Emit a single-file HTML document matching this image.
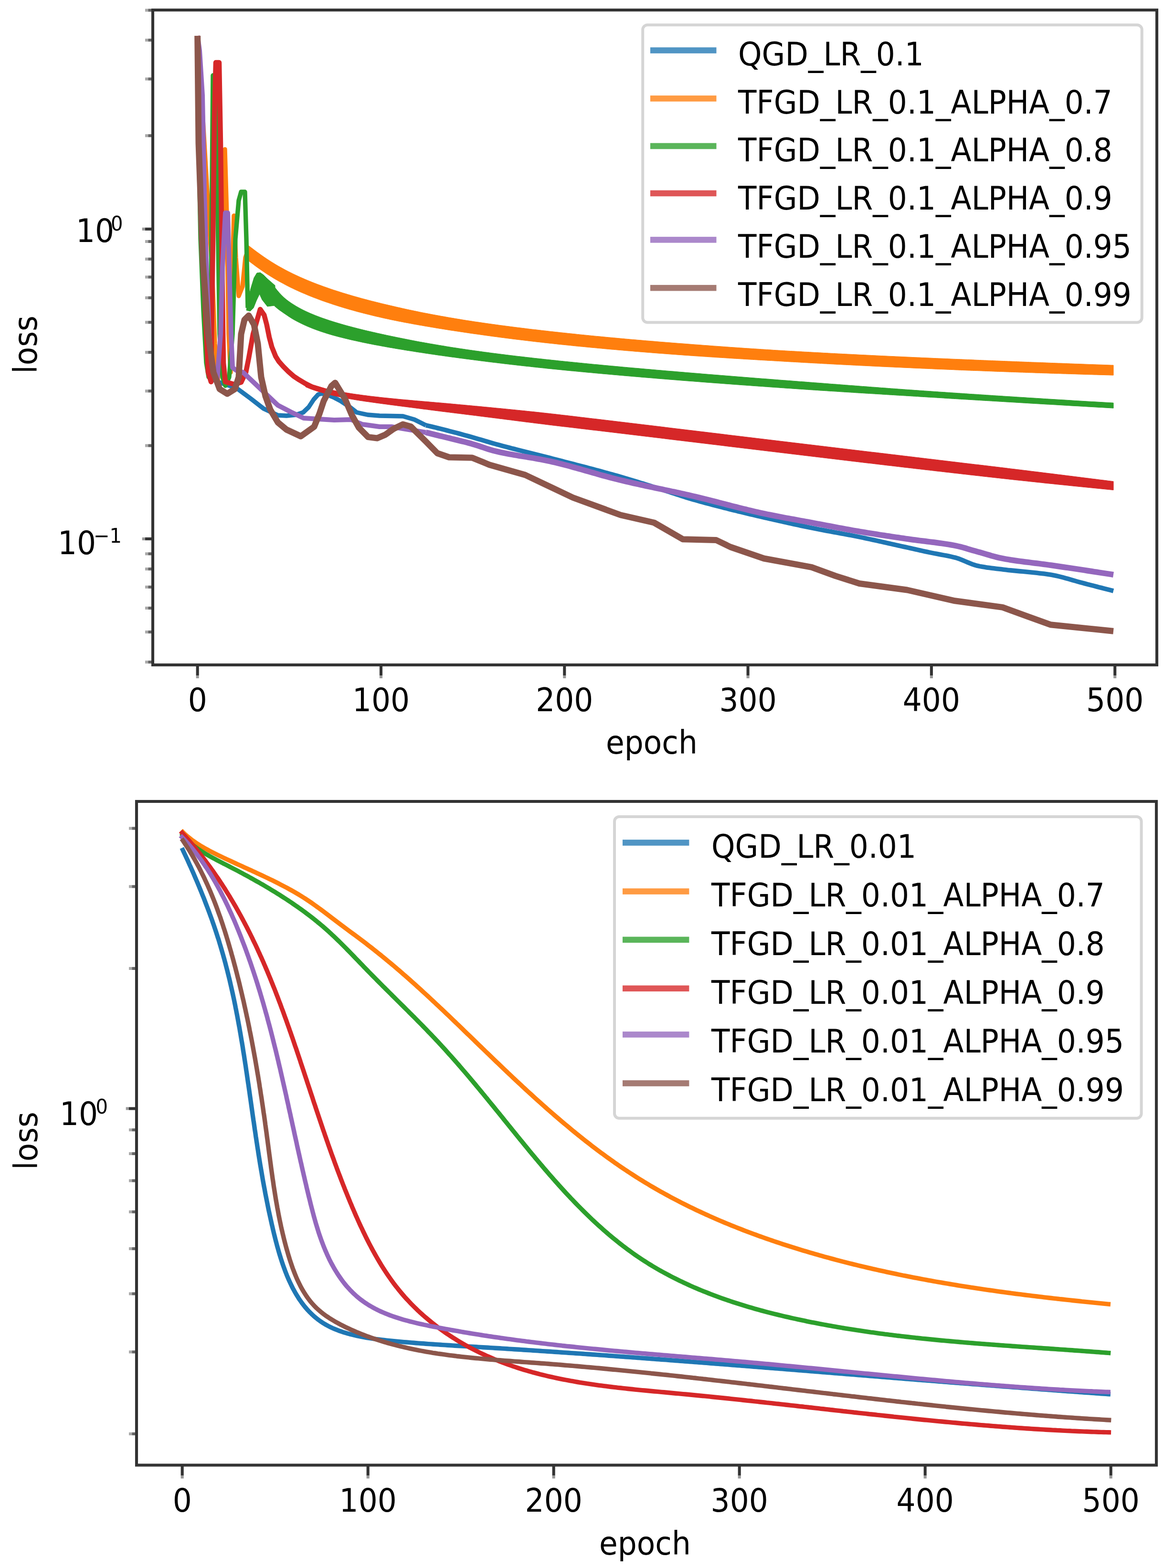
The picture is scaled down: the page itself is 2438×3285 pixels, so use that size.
<!DOCTYPE html>
<html><head><meta charset="utf-8"><title>loss curves</title>
<style>html,body{margin:0;padding:0;background:#fff;}svg{display:block;}</style>
</head><body>
<svg xmlns="http://www.w3.org/2000/svg" width="2438" height="3285" viewBox="0 0 2438 3285">
<style>.t{font-family:"DejaVu Sans","Liberation Sans",sans-serif;font-size:63px;fill:#000}</style>
<rect width="2438" height="3285" fill="#ffffff"/>
<clipPath id="ct"><rect x="320" y="21" width="2103" height="1372"/></clipPath>
<clipPath id="cb"><rect x="286" y="1679" width="2136" height="1390.5"/></clipPath>
<g clip-path="url(#ct)">
<path d="M413.7,75.0 L416.0,200.0 L420.0,400.0 L425.0,560.0 L430.0,700.0 L434.0,770.0 L445.0,795.0 L470.0,805.0 L494.0,812.0 L525.0,835.0 L552.0,856.0 L582.0,870.0 L600.0,871.0 L620.0,869.0 L635.0,864.0 L646.5,853.0 L657.0,837.0 L666.5,826.4 L673.2,824.5 L685.0,827.0 L700.0,833.0 L713.0,839.8 L733.0,853.0 L747.0,864.0 L770.0,869.0 L795.0,871.0 L844.0,872.0 L868.0,879.0 L892.0,891.0" fill="none" stroke="#1f77b4" stroke-width="9.4" stroke-linejoin="round" stroke-linecap="butt" />
<path d="M892.0,891.0 L897.0,892.2 L902.0,893.3 L907.0,894.5 L912.0,895.7 L917.0,897.0 L922.0,898.2 L927.0,899.4 L932.0,900.7 L937.0,902.0 L942.0,903.3 L947.0,904.6 L952.0,905.9 L957.0,907.2 L962.0,908.5 L967.0,909.9 L972.0,911.3 L977.0,912.7 L982.0,914.0 L987.0,915.4 L992.0,916.8 L997.0,918.3 L1002.0,919.8 L1007.0,921.2 L1012.0,922.7 L1017.0,924.2 L1022.0,925.7 L1027.0,927.2 L1032.0,928.6 L1037.0,930.0 L1042.0,931.4 L1047.0,932.7 L1052.0,934.1 L1057.0,935.4 L1062.0,936.7 L1067.0,938.0 L1072.0,939.3 L1077.0,940.5 L1082.0,941.8 L1087.0,943.1 L1092.0,944.3 L1097.0,945.6 L1102.0,946.8 L1107.0,948.1 L1112.0,949.3 L1117.0,950.6 L1122.0,951.8 L1127.0,953.1 L1132.0,954.4 L1137.0,955.6 L1142.0,956.9 L1147.0,958.2 L1152.0,959.5 L1157.0,960.8 L1162.0,962.1 L1167.0,963.4 L1172.0,964.7 L1177.0,966.0 L1182.0,967.3 L1187.0,968.6 L1192.0,969.9 L1197.0,971.2 L1202.0,972.5 L1207.0,973.8 L1212.0,975.1 L1217.0,976.4 L1222.0,977.7 L1227.0,979.0 L1232.0,980.4 L1237.0,981.7 L1242.0,983.0 L1247.0,984.3 L1252.0,985.7 L1257.0,987.0 L1262.0,988.4 L1267.0,989.8 L1272.0,991.1 L1277.0,992.5 L1282.0,993.9 L1287.0,995.3 L1292.0,996.7 L1297.0,998.1 L1302.0,999.6 L1307.0,1001.0 L1312.0,1002.5 L1317.0,1004.0 L1322.0,1005.5 L1327.0,1007.0 L1332.0,1008.6 L1337.0,1010.1 L1342.0,1011.7 L1347.0,1013.2 L1352.0,1014.8 L1357.0,1016.3 L1362.0,1017.9 L1367.0,1019.5 L1372.0,1021.1 L1377.0,1022.6 L1382.0,1024.2 L1387.0,1025.8 L1392.0,1027.5 L1397.0,1029.1 L1402.0,1030.7 L1407.0,1032.4 L1412.0,1034.0 L1417.0,1035.7 L1422.0,1037.3 L1427.0,1038.9 L1432.0,1040.5 L1437.0,1042.1 L1442.0,1043.6 L1447.0,1045.1 L1452.0,1046.6 L1457.0,1048.0 L1462.0,1049.4 L1467.0,1050.8 L1472.0,1052.2 L1477.0,1053.6 L1482.0,1054.9 L1487.0,1056.2 L1492.0,1057.5 L1497.0,1058.8 L1502.0,1060.1 L1507.0,1061.4 L1512.0,1062.7 L1517.0,1064.0 L1522.0,1065.2 L1527.0,1066.5 L1532.0,1067.8 L1537.0,1069.0 L1542.0,1070.2 L1547.0,1071.5 L1552.0,1072.7 L1557.0,1073.9 L1562.0,1075.1 L1567.0,1076.3 L1572.0,1077.5 L1577.0,1078.7 L1582.0,1079.8 L1587.0,1081.0 L1592.0,1082.2 L1597.0,1083.3 L1602.0,1084.5 L1607.0,1085.6 L1612.0,1086.8 L1617.0,1087.9 L1622.0,1089.0 L1627.0,1090.2 L1632.0,1091.3 L1637.0,1092.4 L1642.0,1093.5 L1647.0,1094.7 L1652.0,1095.8 L1657.0,1096.9 L1662.0,1098.0 L1667.0,1099.1 L1672.0,1100.1 L1677.0,1101.2 L1682.0,1102.3 L1687.0,1103.3 L1692.0,1104.4 L1697.0,1105.4 L1702.0,1106.4 L1707.0,1107.4 L1712.0,1108.4 L1717.0,1109.4 L1722.0,1110.3 L1727.0,1111.3 L1732.0,1112.2 L1737.0,1113.1 L1742.0,1114.0 L1747.0,1115.0 L1752.0,1115.9 L1757.0,1116.8 L1762.0,1117.7 L1767.0,1118.6 L1772.0,1119.6 L1777.0,1120.5 L1782.0,1121.4 L1787.0,1122.4 L1792.0,1123.4 L1797.0,1124.4 L1802.0,1125.4 L1807.0,1126.4 L1812.0,1127.5 L1817.0,1128.6 L1822.0,1129.6 L1827.0,1130.7 L1832.0,1131.8 L1837.0,1132.9 L1842.0,1134.0 L1847.0,1135.1 L1852.0,1136.2 L1857.0,1137.4 L1862.0,1138.5 L1867.0,1139.6 L1872.0,1140.7 L1877.0,1141.9 L1882.0,1143.0 L1887.0,1144.1 L1892.0,1145.2 L1897.0,1146.3 L1902.0,1147.4 L1907.0,1148.5 L1912.0,1149.7 L1917.0,1150.8 L1922.0,1151.9 L1927.0,1153.0 L1932.0,1154.1 L1937.0,1155.2 L1942.0,1156.3 L1947.0,1157.4 L1952.0,1158.4 L1957.0,1159.4 L1962.0,1160.3 L1967.0,1161.3 L1972.0,1162.2 L1977.0,1163.1 L1982.0,1164.0 L1987.0,1165.0 L1992.0,1166.1 L1997.0,1167.3 L2002.0,1168.5 L2007.0,1170.1 L2012.0,1172.0 L2017.0,1174.0 L2022.0,1176.1 L2027.0,1178.2 L2032.0,1180.3 L2037.0,1182.2 L2042.0,1183.9 L2047.0,1185.3 L2052.0,1186.4 L2057.0,1187.3 L2062.0,1188.1 L2067.0,1188.9 L2072.0,1189.6 L2077.0,1190.2 L2082.0,1190.8 L2087.0,1191.4 L2092.0,1192.0 L2097.0,1192.6 L2102.0,1193.2 L2107.0,1193.8 L2112.0,1194.4 L2117.0,1194.9 L2122.0,1195.4 L2127.0,1195.9 L2132.0,1196.4 L2137.0,1196.9 L2142.0,1197.3 L2147.0,1197.8 L2152.0,1198.3 L2157.0,1198.8 L2162.0,1199.3 L2167.0,1199.8 L2172.0,1200.3 L2177.0,1200.9 L2182.0,1201.5 L2187.0,1202.1 L2192.0,1202.8 L2197.0,1203.5 L2202.0,1204.3 L2207.0,1205.2 L2212.0,1206.3 L2217.0,1207.4 L2222.0,1208.6 L2227.0,1209.9 L2232.0,1211.3 L2237.0,1212.7 L2242.0,1214.1 L2247.0,1215.6 L2252.0,1217.0 L2257.0,1218.5 L2262.0,1219.9 L2267.0,1221.2 L2272.0,1222.5 L2277.0,1223.8 L2282.0,1225.1 L2287.0,1226.4 L2292.0,1227.7 L2297.0,1229.0 L2302.0,1230.3 L2307.0,1231.5 L2312.0,1232.8 L2317.0,1234.1 L2322.0,1235.4 L2327.0,1236.7 L2332.0,1238.0" fill="none" stroke="#1f77b4" stroke-width="9.6" stroke-linejoin="round" stroke-linecap="butt" />
<path d="M413.7,75.0 L425.0,250.0 L435.0,420.0 L444.0,560.0 L450.0,720.0 L456.0,800.0 L462.0,700.0 L467.0,450.0 L471.0,313.0 L475.0,450.0 L479.0,700.0 L483.0,780.0 L486.0,600.0 L490.0,452.0 L494.0,540.0 L500.0,620.0 L508.0,600.0 L514.0,540.0 L518.0,528.0" fill="none" stroke="#ff7f0e" stroke-width="9.4" stroke-linejoin="round" stroke-linecap="butt" />
<path d="M518.0,512.7 L523.0,516.4 L528.0,520.2 L533.0,524.0 L538.0,527.8 L543.1,531.4 L548.1,535.0 L553.1,538.5 L558.1,541.9 L563.1,545.2 L568.1,548.4 L573.1,551.5 L578.1,554.6 L583.1,557.5 L588.2,560.3 L593.2,563.1 L598.2,565.8 L603.2,568.4 L608.2,570.9 L613.2,573.4 L618.2,575.8 L623.2,578.1 L628.2,580.4 L633.3,582.6 L638.3,584.8 L643.3,586.9 L648.3,589.0 L653.3,591.0 L658.3,593.0 L663.3,594.9 L668.3,596.8 L673.3,598.6 L678.4,600.5 L683.4,602.2 L688.4,604.0 L693.4,605.7 L698.4,607.4 L703.4,609.0 L708.4,610.6 L713.4,612.2 L718.4,613.8 L723.5,615.3 L728.5,616.8 L733.5,618.3 L738.5,619.8 L743.5,621.2 L748.5,622.6 L753.5,624.0 L758.5,625.4 L763.5,626.7 L768.6,628.1 L773.6,629.4 L778.6,630.7 L783.6,631.9 L788.6,633.2 L793.6,634.4 L798.6,635.7 L803.6,636.9 L808.6,638.1 L813.7,639.3 L818.7,640.4 L823.7,641.6 L828.7,642.8 L833.7,643.9 L838.7,645.0 L843.7,646.2 L848.7,647.3 L853.7,648.4 L858.8,649.5 L863.8,650.5 L868.8,651.6 L873.8,652.6 L878.8,653.7 L883.8,654.7 L888.8,655.7 L893.8,656.6 L898.8,657.6 L903.9,658.6 L908.9,659.5 L913.9,660.4 L918.9,661.3 L923.9,662.3 L928.9,663.1 L933.9,664.0 L938.9,664.9 L943.9,665.8 L949.0,666.6 L954.0,667.5 L959.0,668.3 L964.0,669.1 L969.0,670.0 L974.0,670.8 L979.0,671.6 L984.0,672.3 L989.0,673.1 L994.0,673.9 L999.1,674.6 L1004.1,675.3 L1009.1,676.1 L1014.1,676.8 L1019.1,677.5 L1024.1,678.2 L1029.1,678.9 L1034.1,679.6 L1039.1,680.3 L1044.2,681.0 L1049.2,681.7 L1054.2,682.3 L1059.2,683.0 L1064.2,683.6 L1069.2,684.3 L1074.2,684.9 L1079.2,685.6 L1084.2,686.2 L1089.3,686.8 L1094.3,687.4 L1099.3,688.0 L1104.3,688.7 L1109.3,689.3 L1114.3,689.9 L1119.3,690.4 L1124.3,691.0 L1129.3,691.6 L1134.4,692.2 L1139.4,692.8 L1144.4,693.3 L1149.4,693.9 L1154.4,694.5 L1159.4,695.0 L1164.4,695.6 L1169.4,696.1 L1174.4,696.7 L1179.5,697.2 L1184.5,697.7 L1189.5,698.3 L1194.5,698.8 L1199.5,699.3 L1204.5,699.8 L1209.5,700.4 L1214.5,700.9 L1219.5,701.4 L1224.6,701.9 L1229.6,702.4 L1234.6,702.9 L1239.6,703.4 L1244.6,703.9 L1249.6,704.4 L1254.6,704.8 L1259.6,705.3 L1264.6,705.8 L1269.7,706.3 L1274.7,706.8 L1279.7,707.2 L1284.7,707.7 L1289.7,708.1 L1294.7,708.6 L1299.7,709.1 L1304.7,709.5 L1309.7,710.0 L1314.8,710.4 L1319.8,710.9 L1324.8,711.3 L1329.8,711.7 L1334.8,712.2 L1339.8,712.6 L1344.8,713.0 L1349.8,713.5 L1354.8,713.9 L1359.9,714.3 L1364.9,714.7 L1369.9,715.1 L1374.9,715.6 L1379.9,716.0 L1384.9,716.4 L1389.9,716.8 L1394.9,717.2 L1399.9,717.6 L1405.0,718.0 L1410.0,718.4 L1415.0,718.8 L1420.0,719.2 L1425.0,719.6 L1430.0,719.9 L1435.0,720.3 L1440.0,720.7 L1445.0,721.1 L1450.1,721.5 L1455.1,721.9 L1460.1,722.2 L1465.1,722.6 L1470.1,723.0 L1475.1,723.4 L1480.1,723.7 L1485.1,724.1 L1490.1,724.5 L1495.2,724.9 L1500.2,725.2 L1505.2,725.6 L1510.2,725.9 L1515.2,726.3 L1520.2,726.7 L1525.2,727.0 L1530.2,727.4 L1535.2,727.7 L1540.3,728.1 L1545.3,728.4 L1550.3,728.8 L1555.3,729.1 L1560.3,729.5 L1565.3,729.8 L1570.3,730.1 L1575.3,730.5 L1580.3,730.8 L1585.4,731.1 L1590.4,731.4 L1595.4,731.8 L1600.4,732.1 L1605.4,732.4 L1610.4,732.7 L1615.4,733.0 L1620.4,733.4 L1625.4,733.7 L1630.5,734.0 L1635.5,734.3 L1640.5,734.6 L1645.5,734.9 L1650.5,735.2 L1655.5,735.5 L1660.5,735.7 L1665.5,736.0 L1670.5,736.3 L1675.6,736.6 L1680.6,736.9 L1685.6,737.2 L1690.6,737.4 L1695.6,737.7 L1700.6,738.0 L1705.6,738.3 L1710.6,738.5 L1715.6,738.8 L1720.7,739.1 L1725.7,739.4 L1730.7,739.6 L1735.7,739.9 L1740.7,740.2 L1745.7,740.4 L1750.7,740.7 L1755.7,741.0 L1760.7,741.2 L1765.8,741.5 L1770.8,741.7 L1775.8,742.0 L1780.8,742.2 L1785.8,742.5 L1790.8,742.7 L1795.8,743.0 L1800.8,743.3 L1805.8,743.5 L1810.9,743.7 L1815.9,744.0 L1820.9,744.2 L1825.9,744.5 L1830.9,744.7 L1835.9,745.0 L1840.9,745.2 L1845.9,745.5 L1850.9,745.7 L1856.0,745.9 L1861.0,746.2 L1866.0,746.4 L1871.0,746.6 L1876.0,746.9 L1881.0,747.1 L1886.0,747.3 L1891.0,747.6 L1896.0,747.8 L1901.0,748.0 L1906.1,748.2 L1911.1,748.5 L1916.1,748.7 L1921.1,748.9 L1926.1,749.1 L1931.1,749.4 L1936.1,749.6 L1941.1,749.8 L1946.1,750.0 L1951.2,750.2 L1956.2,750.5 L1961.2,750.7 L1966.2,750.9 L1971.2,751.1 L1976.2,751.3 L1981.2,751.5 L1986.2,751.7 L1991.2,752.0 L1996.3,752.2 L2001.3,752.4 L2006.3,752.6 L2011.3,752.8 L2016.3,753.0 L2021.3,753.2 L2026.3,753.4 L2031.3,753.6 L2036.3,753.8 L2041.4,754.1 L2046.4,754.3 L2051.4,754.5 L2056.4,754.7 L2061.4,754.9 L2066.4,755.1 L2071.4,755.3 L2076.4,755.5 L2081.4,755.7 L2086.5,755.9 L2091.5,756.1 L2096.5,756.3 L2101.5,756.5 L2106.5,756.7 L2111.5,756.9 L2116.5,757.1 L2121.5,757.3 L2126.5,757.5 L2131.6,757.7 L2136.6,757.9 L2141.6,758.1 L2146.6,758.3 L2151.6,758.5 L2156.6,758.7 L2161.6,758.9 L2166.6,759.1 L2171.6,759.2 L2176.7,759.4 L2181.7,759.6 L2186.7,759.8 L2191.7,760.0 L2196.7,760.2 L2201.7,760.4 L2206.7,760.6 L2211.7,760.8 L2216.7,761.0 L2221.8,761.1 L2226.8,761.3 L2231.8,761.5 L2236.8,761.7 L2241.8,761.9 L2246.8,762.1 L2251.8,762.3 L2256.8,762.4 L2261.8,762.6 L2266.9,762.8 L2271.9,763.0 L2276.9,763.2 L2281.9,763.4 L2286.9,763.5 L2291.9,763.7 L2296.9,763.9 L2301.9,764.1 L2306.9,764.2 L2312.0,764.4 L2317.0,764.6 L2322.0,764.8 L2327.0,765.0 L2332.0,765.1 L2332.0,786.1 L2327.0,786.0 L2322.0,785.8 L2317.0,785.7 L2312.0,785.5 L2306.9,785.4 L2301.9,785.3 L2296.9,785.1 L2291.9,785.0 L2286.9,784.8 L2281.9,784.7 L2276.9,784.5 L2271.9,784.4 L2266.9,784.2 L2261.8,784.1 L2256.8,783.9 L2251.8,783.7 L2246.8,783.6 L2241.8,783.4 L2236.8,783.3 L2231.8,783.1 L2226.8,783.0 L2221.8,782.8 L2216.7,782.6 L2211.7,782.5 L2206.7,782.3 L2201.7,782.2 L2196.7,782.0 L2191.7,781.8 L2186.7,781.7 L2181.7,781.5 L2176.7,781.3 L2171.6,781.2 L2166.6,781.0 L2161.6,780.8 L2156.6,780.7 L2151.6,780.5 L2146.6,780.3 L2141.6,780.1 L2136.6,780.0 L2131.6,779.8 L2126.5,779.6 L2121.5,779.4 L2116.5,779.3 L2111.5,779.1 L2106.5,778.9 L2101.5,778.7 L2096.5,778.5 L2091.5,778.4 L2086.5,778.2 L2081.4,778.0 L2076.4,777.8 L2071.4,777.6 L2066.4,777.4 L2061.4,777.2 L2056.4,777.0 L2051.4,776.8 L2046.4,776.6 L2041.4,776.5 L2036.3,776.3 L2031.3,776.1 L2026.3,775.9 L2021.3,775.7 L2016.3,775.5 L2011.3,775.3 L2006.3,775.1 L2001.3,774.9 L1996.3,774.6 L1991.2,774.4 L1986.2,774.2 L1981.2,774.0 L1976.2,773.8 L1971.2,773.6 L1966.2,773.4 L1961.2,773.2 L1956.2,773.0 L1951.2,772.7 L1946.1,772.5 L1941.1,772.3 L1936.1,772.1 L1931.1,771.9 L1926.1,771.6 L1921.1,771.4 L1916.1,771.2 L1911.1,771.0 L1906.1,770.7 L1901.0,770.5 L1896.0,770.3 L1891.0,770.1 L1886.0,769.8 L1881.0,769.6 L1876.0,769.4 L1871.0,769.1 L1866.0,768.9 L1861.0,768.7 L1856.0,768.4 L1850.9,768.2 L1845.9,768.0 L1840.9,767.7 L1835.9,767.5 L1830.9,767.2 L1825.9,767.0 L1820.9,766.7 L1815.9,766.5 L1810.9,766.2 L1805.8,766.0 L1800.8,765.8 L1795.8,765.5 L1790.8,765.2 L1785.8,765.0 L1780.8,764.7 L1775.8,764.5 L1770.8,764.2 L1765.8,764.0 L1760.7,763.7 L1755.7,763.5 L1750.7,763.2 L1745.7,762.9 L1740.7,762.7 L1735.7,762.4 L1730.7,762.1 L1725.7,761.9 L1720.7,761.6 L1715.6,761.3 L1710.6,761.0 L1705.6,760.8 L1700.6,760.5 L1695.6,760.2 L1690.6,759.9 L1685.6,759.7 L1680.6,759.4 L1675.6,759.1 L1670.5,758.8 L1665.5,758.5 L1660.5,758.2 L1655.5,758.0 L1650.5,757.7 L1645.5,757.4 L1640.5,757.1 L1635.5,756.8 L1630.5,756.5 L1625.4,756.2 L1620.4,755.9 L1615.4,755.6 L1610.4,755.4 L1605.4,755.1 L1600.4,754.8 L1595.4,754.5 L1590.4,754.2 L1585.4,753.9 L1580.3,753.6 L1575.3,753.3 L1570.3,753.0 L1565.3,752.7 L1560.3,752.4 L1555.3,752.1 L1550.3,751.8 L1545.3,751.5 L1540.3,751.2 L1535.2,750.9 L1530.2,750.6 L1525.2,750.2 L1520.2,749.9 L1515.2,749.6 L1510.2,749.3 L1505.2,749.0 L1500.2,748.7 L1495.2,748.3 L1490.1,748.0 L1485.1,747.7 L1480.1,747.3 L1475.1,747.0 L1470.1,746.7 L1465.1,746.3 L1460.1,746.0 L1455.1,745.7 L1450.1,745.3 L1445.0,745.0 L1440.0,744.6 L1435.0,744.3 L1430.0,743.9 L1425.0,743.5 L1420.0,743.2 L1415.0,742.8 L1410.0,742.4 L1405.0,742.1 L1399.9,741.7 L1394.9,741.3 L1389.9,740.9 L1384.9,740.5 L1379.9,740.2 L1374.9,739.8 L1369.9,739.4 L1364.9,739.0 L1359.9,738.6 L1354.8,738.2 L1349.8,737.8 L1344.8,737.4 L1339.8,737.0 L1334.8,736.6 L1329.8,736.2 L1324.8,735.7 L1319.8,735.3 L1314.8,734.9 L1309.7,734.5 L1304.7,734.0 L1299.7,733.6 L1294.7,733.2 L1289.7,732.7 L1284.7,732.3 L1279.7,731.9 L1274.7,731.4 L1269.7,731.0 L1264.6,730.5 L1259.6,730.0 L1254.6,729.6 L1249.6,729.1 L1244.6,728.6 L1239.6,728.2 L1234.6,727.7 L1229.6,727.2 L1224.6,726.7 L1219.5,726.2 L1214.5,725.8 L1209.5,725.3 L1204.5,724.8 L1199.5,724.3 L1194.5,723.7 L1189.5,723.2 L1184.5,722.7 L1179.5,722.2 L1174.4,721.7 L1169.4,721.2 L1164.4,720.6 L1159.4,720.1 L1154.4,719.5 L1149.4,719.0 L1144.4,718.4 L1139.4,717.9 L1134.4,717.3 L1129.3,716.7 L1124.3,716.2 L1119.3,715.6 L1114.3,715.0 L1109.3,714.4 L1104.3,713.8 L1099.3,713.2 L1094.3,712.6 L1089.3,712.0 L1084.2,711.4 L1079.2,710.8 L1074.2,710.2 L1069.2,709.5 L1064.2,708.9 L1059.2,708.3 L1054.2,707.6 L1049.2,707.0 L1044.2,706.3 L1039.1,705.6 L1034.1,705.0 L1029.1,704.3 L1024.1,703.6 L1019.1,702.9 L1014.1,702.2 L1009.1,701.5 L1004.1,700.8 L999.1,700.1 L994.0,699.4 L989.0,698.7 L984.0,698.0 L979.0,697.2 L974.0,696.5 L969.0,695.7 L964.0,695.0 L959.0,694.2 L954.0,693.5 L949.0,692.7 L943.9,692.0 L938.9,691.2 L933.9,690.4 L928.9,689.6 L923.9,688.8 L918.9,688.0 L913.9,687.2 L908.9,686.3 L903.9,685.5 L898.8,684.6 L893.8,683.8 L888.8,682.9 L883.8,682.0 L878.8,681.2 L873.8,680.3 L868.8,679.4 L863.8,678.5 L858.8,677.5 L853.7,676.6 L848.7,675.7 L843.7,674.7 L838.7,673.7 L833.7,672.8 L828.7,671.7 L823.7,670.7 L818.7,669.7 L813.7,668.6 L808.6,667.5 L803.6,666.4 L798.6,665.3 L793.6,664.1 L788.6,663.0 L783.6,661.8 L778.6,660.6 L773.6,659.3 L768.6,658.1 L763.5,656.8 L758.5,655.5 L753.5,654.2 L748.5,652.9 L743.5,651.5 L738.5,650.1 L733.5,648.7 L728.5,647.3 L723.5,645.8 L718.4,644.3 L713.4,642.7 L708.4,641.2 L703.4,639.6 L698.4,638.0 L693.4,636.3 L688.4,634.6 L683.4,632.9 L678.4,631.2 L673.3,629.4 L668.3,627.5 L663.3,625.6 L658.3,623.7 L653.3,621.8 L648.3,619.8 L643.3,617.7 L638.3,615.6 L633.3,613.5 L628.2,611.3 L623.2,609.0 L618.2,606.7 L613.2,604.3 L608.2,601.9 L603.2,599.4 L598.2,596.8 L593.2,594.1 L588.2,591.4 L583.1,588.6 L578.1,585.7 L573.1,582.8 L568.1,579.7 L563.1,576.6 L558.1,573.4 L553.1,570.0 L548.1,566.6 L543.1,563.1 L538.0,559.5 L533.0,555.8 L528.0,552.0 L523.0,548.3 L518.0,544.7 Z" fill="#ff7f0e" stroke="#ff7f0e" stroke-width="1"/>
<path d="M413.7,75.0 L416.0,300.0 L420.0,500.0 L426.0,650.0 L432.0,760.0 L437.0,790.0 L442.0,600.0 L446.0,158.0 L451.0,158.0 L456.0,450.0 L460.0,700.0 L466.0,790.0 L472.0,808.0 L480.0,790.0 L487.0,700.0 L493.0,500.0 L500.0,420.0 L505.0,402.0 L513.0,402.0 L516.0,500.0 L519.0,645.0" fill="none" stroke="#2ca02c" stroke-width="9.4" stroke-linejoin="round" stroke-linecap="butt" />
<path d="M516.0,650.0 L519.0,630.0 L525.0,605.0 L532.0,582.0 L538.0,572.0 L545.0,571.0 L552.0,576.0 L560.0,584.0 L576.0,598.0 L576.0,640.0 L560.0,642.0 L549.0,628.0 L543.6,616.0 L537.0,630.0 L531.0,645.0 L524.0,652.0 Z" fill="#2ca02c" stroke="#2ca02c" stroke-width="1" stroke-linejoin="round"/>
<path d="M575.0,601.2 L580.0,607.5 L585.0,613.4 L590.0,618.8 L595.0,623.6 L600.0,627.8 L605.0,631.6 L610.0,635.1 L615.0,638.3 L620.1,641.4 L625.1,644.3 L630.1,647.0 L635.1,649.6 L640.1,652.0 L645.1,654.3 L650.1,656.5 L655.1,658.6 L660.1,660.7 L665.1,662.6 L670.1,664.5 L675.1,666.3 L680.1,668.0 L685.1,669.7 L690.1,671.4 L695.1,673.0 L700.1,674.6 L705.1,676.1 L710.2,677.6 L715.2,679.1 L720.2,680.5 L725.2,681.9 L730.2,683.3 L735.2,684.6 L740.2,685.9 L745.2,687.2 L750.2,688.5 L755.2,689.7 L760.2,691.0 L765.2,692.2 L770.2,693.4 L775.2,694.5 L780.2,695.7 L785.2,696.8 L790.2,698.0 L795.3,699.1 L800.3,700.2 L805.3,701.3 L810.3,702.4 L815.3,703.4 L820.3,704.5 L825.3,705.5 L830.3,706.6 L835.3,707.6 L840.3,708.6 L845.3,709.6 L850.3,710.6 L855.3,711.6 L860.3,712.6 L865.3,713.6 L870.3,714.5 L875.3,715.5 L880.3,716.4 L885.4,717.3 L890.4,718.2 L895.4,719.1 L900.4,720.0 L905.4,720.8 L910.4,721.7 L915.4,722.5 L920.4,723.4 L925.4,724.2 L930.4,725.0 L935.4,725.9 L940.4,726.7 L945.4,727.5 L950.4,728.3 L955.4,729.0 L960.4,729.8 L965.4,730.6 L970.5,731.3 L975.5,732.1 L980.5,732.8 L985.5,733.5 L990.5,734.2 L995.5,734.9 L1000.5,735.6 L1005.5,736.3 L1010.5,737.0 L1015.5,737.7 L1020.5,738.3 L1025.5,739.0 L1030.5,739.7 L1035.5,740.3 L1040.5,740.9 L1045.5,741.6 L1050.5,742.2 L1055.5,742.8 L1060.6,743.5 L1065.6,744.1 L1070.6,744.7 L1075.6,745.3 L1080.6,745.9 L1085.6,746.5 L1090.6,747.0 L1095.6,747.6 L1100.6,748.2 L1105.6,748.8 L1110.6,749.3 L1115.6,749.9 L1120.6,750.5 L1125.6,751.0 L1130.6,751.6 L1135.6,752.1 L1140.6,752.7 L1145.6,753.2 L1150.7,753.7 L1155.7,754.3 L1160.7,754.8 L1165.7,755.3 L1170.7,755.9 L1175.7,756.4 L1180.7,756.9 L1185.7,757.4 L1190.7,757.9 L1195.7,758.4 L1200.7,758.9 L1205.7,759.4 L1210.7,759.9 L1215.7,760.4 L1220.7,760.9 L1225.7,761.4 L1230.7,761.9 L1235.8,762.4 L1240.8,762.9 L1245.8,763.4 L1250.8,763.8 L1255.8,764.3 L1260.8,764.8 L1265.8,765.3 L1270.8,765.7 L1275.8,766.2 L1280.8,766.7 L1285.8,767.1 L1290.8,767.6 L1295.8,768.0 L1300.8,768.5 L1305.8,769.0 L1310.8,769.4 L1315.8,769.9 L1320.8,770.3 L1325.9,770.8 L1330.9,771.2 L1335.9,771.6 L1340.9,772.1 L1345.9,772.5 L1350.9,773.0 L1355.9,773.4 L1360.9,773.8 L1365.9,774.3 L1370.9,774.7 L1375.9,775.2 L1380.9,775.6 L1385.9,776.0 L1390.9,776.4 L1395.9,776.9 L1400.9,777.3 L1405.9,777.7 L1411.0,778.1 L1416.0,778.6 L1421.0,779.0 L1426.0,779.4 L1431.0,779.8 L1436.0,780.3 L1441.0,780.7 L1446.0,781.1 L1451.0,781.5 L1456.0,781.9 L1461.0,782.3 L1466.0,782.7 L1471.0,783.2 L1476.0,783.6 L1481.0,784.0 L1486.0,784.4 L1491.0,784.8 L1496.0,785.2 L1501.1,785.6 L1506.1,786.0 L1511.1,786.4 L1516.1,786.8 L1521.1,787.2 L1526.1,787.6 L1531.1,788.0 L1536.1,788.4 L1541.1,788.8 L1546.1,789.2 L1551.1,789.6 L1556.1,790.0 L1561.1,790.4 L1566.1,790.8 L1571.1,791.2 L1576.1,791.6 L1581.1,792.0 L1586.2,792.4 L1591.2,792.8 L1596.2,793.2 L1601.2,793.5 L1606.2,793.9 L1611.2,794.3 L1616.2,794.7 L1621.2,795.1 L1626.2,795.5 L1631.2,795.9 L1636.2,796.3 L1641.2,796.7 L1646.2,797.0 L1651.2,797.4 L1656.2,797.8 L1661.2,798.2 L1666.2,798.6 L1671.2,799.0 L1676.3,799.4 L1681.3,799.7 L1686.3,800.1 L1691.3,800.5 L1696.3,800.9 L1701.3,801.3 L1706.3,801.7 L1711.3,802.1 L1716.3,802.4 L1721.3,802.8 L1726.3,803.2 L1731.3,803.6 L1736.3,804.0 L1741.3,804.4 L1746.3,804.8 L1751.3,805.1 L1756.3,805.5 L1761.4,805.9 L1766.4,806.3 L1771.4,806.7 L1776.4,807.1 L1781.4,807.5 L1786.4,807.8 L1791.4,808.2 L1796.4,808.6 L1801.4,809.0 L1806.4,809.4 L1811.4,809.7 L1816.4,810.1 L1821.4,810.5 L1826.4,810.9 L1831.4,811.2 L1836.4,811.6 L1841.4,812.0 L1846.4,812.4 L1851.5,812.7 L1856.5,813.1 L1861.5,813.5 L1866.5,813.9 L1871.5,814.2 L1876.5,814.6 L1881.5,815.0 L1886.5,815.3 L1891.5,815.7 L1896.5,816.1 L1901.5,816.4 L1906.5,816.8 L1911.5,817.1 L1916.5,817.5 L1921.5,817.8 L1926.5,818.2 L1931.5,818.5 L1936.5,818.9 L1941.6,819.2 L1946.6,819.6 L1951.6,819.9 L1956.6,820.3 L1961.6,820.6 L1966.6,821.0 L1971.6,821.3 L1976.6,821.6 L1981.6,822.0 L1986.6,822.3 L1991.6,822.7 L1996.6,823.0 L2001.6,823.3 L2006.6,823.7 L2011.6,824.0 L2016.6,824.3 L2021.6,824.7 L2026.7,825.0 L2031.7,825.4 L2036.7,825.7 L2041.7,826.0 L2046.7,826.3 L2051.7,826.7 L2056.7,827.0 L2061.7,827.3 L2066.7,827.7 L2071.7,828.0 L2076.7,828.3 L2081.7,828.7 L2086.7,829.0 L2091.7,829.3 L2096.7,829.6 L2101.7,830.0 L2106.7,830.3 L2111.7,830.6 L2116.8,830.9 L2121.8,831.2 L2126.8,831.6 L2131.8,831.9 L2136.8,832.2 L2141.8,832.5 L2146.8,832.8 L2151.8,833.2 L2156.8,833.5 L2161.8,833.8 L2166.8,834.1 L2171.8,834.4 L2176.8,834.7 L2181.8,835.0 L2186.8,835.4 L2191.8,835.7 L2196.8,836.0 L2201.9,836.3 L2206.9,836.6 L2211.9,836.9 L2216.9,837.2 L2221.9,837.5 L2226.9,837.8 L2231.9,838.1 L2236.9,838.4 L2241.9,838.7 L2246.9,839.1 L2251.9,839.4 L2256.9,839.7 L2261.9,840.0 L2266.9,840.3 L2271.9,840.6 L2276.9,840.9 L2281.9,841.2 L2286.9,841.5 L2292.0,841.7 L2297.0,842.0 L2302.0,842.3 L2307.0,842.6 L2312.0,842.9 L2317.0,843.2 L2322.0,843.5 L2327.0,843.8 L2332.0,844.1 L2332.0,855.1 L2327.0,854.8 L2322.0,854.5 L2317.0,854.2 L2312.0,853.9 L2307.0,853.6 L2302.0,853.4 L2297.0,853.1 L2292.0,852.8 L2286.9,852.5 L2281.9,852.2 L2276.9,851.9 L2271.9,851.6 L2266.9,851.3 L2261.9,851.0 L2256.9,850.7 L2251.9,850.5 L2246.9,850.2 L2241.9,849.9 L2236.9,849.6 L2231.9,849.3 L2226.9,849.0 L2221.9,848.7 L2216.9,848.4 L2211.9,848.1 L2206.9,847.8 L2201.9,847.5 L2196.8,847.2 L2191.8,847.0 L2186.8,846.7 L2181.8,846.4 L2176.8,846.1 L2171.8,845.8 L2166.8,845.5 L2161.8,845.2 L2156.8,844.9 L2151.8,844.6 L2146.8,844.3 L2141.8,844.0 L2136.8,843.7 L2131.8,843.4 L2126.8,843.1 L2121.8,842.8 L2116.8,842.5 L2111.7,842.2 L2106.7,841.9 L2101.7,841.6 L2096.7,841.3 L2091.7,841.0 L2086.7,840.7 L2081.7,840.4 L2076.7,840.1 L2071.7,839.8 L2066.7,839.5 L2061.7,839.2 L2056.7,838.9 L2051.7,838.6 L2046.7,838.3 L2041.7,838.0 L2036.7,837.7 L2031.7,837.4 L2026.7,837.1 L2021.6,836.8 L2016.6,836.5 L2011.6,836.2 L2006.6,835.9 L2001.6,835.6 L1996.6,835.3 L1991.6,835.0 L1986.6,834.7 L1981.6,834.4 L1976.6,834.0 L1971.6,833.7 L1966.6,833.4 L1961.6,833.1 L1956.6,832.8 L1951.6,832.5 L1946.6,832.2 L1941.6,831.9 L1936.5,831.6 L1931.5,831.3 L1926.5,831.0 L1921.5,830.6 L1916.5,830.3 L1911.5,830.0 L1906.5,829.7 L1901.5,829.4 L1896.5,829.1 L1891.5,828.8 L1886.5,828.5 L1881.5,828.2 L1876.5,827.9 L1871.5,827.6 L1866.5,827.3 L1861.5,827.0 L1856.5,826.7 L1851.5,826.4 L1846.4,826.0 L1841.4,825.7 L1836.4,825.4 L1831.4,825.1 L1826.4,824.8 L1821.4,824.5 L1816.4,824.2 L1811.4,823.9 L1806.4,823.6 L1801.4,823.3 L1796.4,823.0 L1791.4,822.7 L1786.4,822.3 L1781.4,822.0 L1776.4,821.7 L1771.4,821.4 L1766.4,821.1 L1761.4,820.8 L1756.3,820.4 L1751.3,820.1 L1746.3,819.8 L1741.3,819.5 L1736.3,819.2 L1731.3,818.8 L1726.3,818.5 L1721.3,818.2 L1716.3,817.9 L1711.3,817.5 L1706.3,817.2 L1701.3,816.9 L1696.3,816.6 L1691.3,816.2 L1686.3,815.9 L1681.3,815.5 L1676.3,815.2 L1671.2,814.9 L1666.2,814.5 L1661.2,814.2 L1656.2,813.8 L1651.2,813.5 L1646.2,813.2 L1641.2,812.8 L1636.2,812.5 L1631.2,812.1 L1626.2,811.8 L1621.2,811.4 L1616.2,811.1 L1611.2,810.7 L1606.2,810.3 L1601.2,810.0 L1596.2,809.6 L1591.2,809.3 L1586.2,808.9 L1581.1,808.6 L1576.1,808.2 L1571.1,807.8 L1566.1,807.5 L1561.1,807.1 L1556.1,806.8 L1551.1,806.4 L1546.1,806.0 L1541.1,805.7 L1536.1,805.3 L1531.1,804.9 L1526.1,804.5 L1521.1,804.2 L1516.1,803.8 L1511.1,803.4 L1506.1,803.0 L1501.1,802.7 L1496.0,802.3 L1491.0,801.9 L1486.0,801.5 L1481.0,801.2 L1476.0,800.8 L1471.0,800.4 L1466.0,800.0 L1461.0,799.6 L1456.0,799.2 L1451.0,798.8 L1446.0,798.5 L1441.0,798.1 L1436.0,797.7 L1431.0,797.3 L1426.0,796.9 L1421.0,796.5 L1416.0,796.1 L1411.0,795.7 L1405.9,795.3 L1400.9,794.9 L1395.9,794.5 L1390.9,794.1 L1385.9,793.7 L1380.9,793.3 L1375.9,792.9 L1370.9,792.4 L1365.9,792.0 L1360.9,791.6 L1355.9,791.2 L1350.9,790.8 L1345.9,790.4 L1340.9,789.9 L1335.9,789.5 L1330.9,789.1 L1325.9,788.7 L1320.8,788.2 L1315.8,787.8 L1310.8,787.4 L1305.8,786.9 L1300.8,786.5 L1295.8,786.1 L1290.8,785.6 L1285.8,785.2 L1280.8,784.7 L1275.8,784.3 L1270.8,783.8 L1265.8,783.4 L1260.8,782.9 L1255.8,782.5 L1250.8,782.0 L1245.8,781.6 L1240.8,781.1 L1235.8,780.6 L1230.7,780.2 L1225.7,779.7 L1220.7,779.2 L1215.7,778.8 L1210.7,778.3 L1205.7,777.8 L1200.7,777.3 L1195.7,776.9 L1190.7,776.4 L1185.7,775.9 L1180.7,775.4 L1175.7,774.9 L1170.7,774.4 L1165.7,773.9 L1160.7,773.4 L1155.7,772.9 L1150.7,772.4 L1145.6,771.9 L1140.6,771.3 L1135.6,770.8 L1130.6,770.3 L1125.6,769.8 L1120.6,769.2 L1115.6,768.7 L1110.6,768.1 L1105.6,767.6 L1100.6,767.1 L1095.6,766.5 L1090.6,765.9 L1085.6,765.4 L1080.6,764.8 L1075.6,764.2 L1070.6,763.7 L1065.6,763.1 L1060.6,762.5 L1055.5,761.9 L1050.5,761.3 L1045.5,760.7 L1040.5,760.1 L1035.5,759.5 L1030.5,758.9 L1025.5,758.3 L1020.5,757.7 L1015.5,757.0 L1010.5,756.4 L1005.5,755.8 L1000.5,755.1 L995.5,754.5 L990.5,753.8 L985.5,753.2 L980.5,752.5 L975.5,751.9 L970.5,751.2 L965.4,750.6 L960.4,749.9 L955.4,749.2 L950.4,748.5 L945.4,747.9 L940.4,747.2 L935.4,746.5 L930.4,745.8 L925.4,745.1 L920.4,744.4 L915.4,743.7 L910.4,742.9 L905.4,742.2 L900.4,741.5 L895.4,740.7 L890.4,740.0 L885.4,739.2 L880.3,738.4 L875.3,737.7 L870.3,736.9 L865.3,736.1 L860.3,735.3 L855.3,734.6 L850.3,733.8 L845.3,732.9 L840.3,732.1 L835.3,731.3 L830.3,730.5 L825.3,729.6 L820.3,728.7 L815.3,727.9 L810.3,727.0 L805.3,726.1 L800.3,725.2 L795.3,724.2 L790.2,723.3 L785.2,722.4 L780.2,721.4 L775.2,720.4 L770.2,719.4 L765.2,718.4 L760.2,717.4 L755.2,716.3 L750.2,715.2 L745.2,714.1 L740.2,713.0 L735.2,711.9 L730.2,710.7 L725.2,709.5 L720.2,708.3 L715.2,707.0 L710.2,705.8 L705.1,704.4 L700.1,703.1 L695.1,701.7 L690.1,700.2 L685.1,698.7 L680.1,697.1 L675.1,695.5 L670.1,693.8 L665.1,692.0 L660.1,690.2 L655.1,688.3 L650.1,686.3 L645.1,684.2 L640.1,682.0 L635.1,679.7 L630.1,677.3 L625.1,674.8 L620.1,672.2 L615.0,669.4 L610.0,666.4 L605.0,663.2 L600.0,659.8 L595.0,656.4 L590.0,652.9 L585.0,649.4 L580.0,645.5 L575.0,641.2 Z" fill="#2ca02c" stroke="#2ca02c" stroke-width="1"/>
<path d="M413.7,75.0 L418.0,200.0 L424.0,450.0 L430.0,650.0 L436.0,780.0 L442.0,800.0 L446.0,500.0 L449.0,250.0 L452.0,131.0 L459.0,131.0 L462.0,300.0 L465.0,550.0 L468.0,760.0 L472.0,800.0 L490.0,805.0 L505.0,801.0 L515.0,780.0 L521.0,750.0 L530.0,700.0 L545.0,648.0 L553.3,660.0 L558.6,680.0 L564.0,706.6 L569.3,726.6 L577.3,746.5 L584.0,757.2 L593.3,767.8 L604.0,778.5 L614.6,787.8 L626.6,795.8 L639.9,803.8 L653.2,810.5 L666.5,814.5 L679.8,818.5 L692.0,821.5" fill="none" stroke="#d62728" stroke-width="10.5" stroke-linejoin="round" stroke-linecap="butt" />
<path d="M640.0,800.0 L645.0,802.1 L650.0,804.1 L655.0,806.0 L660.0,807.7 L665.0,809.3 L670.0,810.8 L675.0,812.3 L680.0,813.7 L685.1,814.9 L690.1,816.1 L695.1,817.1 L700.1,818.2 L705.1,819.2 L710.1,820.1 L715.1,821.1 L720.1,821.9 L725.1,822.8 L730.1,823.6 L735.1,824.4 L740.1,825.2 L745.1,825.9 L750.1,826.6 L755.1,827.3 L760.1,828.0 L765.1,828.6 L770.2,829.3 L775.2,829.9 L780.2,830.5 L785.2,831.1 L790.2,831.6 L795.2,832.2 L800.2,832.8 L805.2,833.3 L810.2,833.8 L815.2,834.3 L820.2,834.8 L825.2,835.3 L830.2,835.8 L835.2,836.3 L840.2,836.8 L845.2,837.2 L850.2,837.7 L855.3,838.1 L860.3,838.6 L865.3,839.0 L870.3,839.5 L875.3,839.9 L880.3,840.3 L885.3,840.8 L890.3,841.2 L895.3,841.6 L900.3,842.1 L905.3,842.5 L910.3,842.9 L915.3,843.4 L920.3,843.8 L925.3,844.2 L930.3,844.7 L935.3,845.1 L940.4,845.6 L945.4,846.0 L950.4,846.5 L955.4,846.9 L960.4,847.4 L965.4,847.9 L970.4,848.3 L975.4,848.8 L980.4,849.3 L985.4,849.7 L990.4,850.2 L995.4,850.7 L1000.4,851.1 L1005.4,851.6 L1010.4,852.1 L1015.4,852.6 L1020.4,853.0 L1025.5,853.5 L1030.5,854.0 L1035.5,854.5 L1040.5,855.0 L1045.5,855.4 L1050.5,855.9 L1055.5,856.4 L1060.5,856.9 L1065.5,857.4 L1070.5,857.9 L1075.5,858.4 L1080.5,858.9 L1085.5,859.4 L1090.5,859.9 L1095.5,860.4 L1100.5,860.9 L1105.6,861.5 L1110.6,862.0 L1115.6,862.5 L1120.6,863.0 L1125.6,863.6 L1130.6,864.1 L1135.6,864.7 L1140.6,865.2 L1145.6,865.8 L1150.6,866.3 L1155.6,866.9 L1160.6,867.4 L1165.6,868.0 L1170.6,868.6 L1175.6,869.2 L1180.6,869.8 L1185.6,870.3 L1190.7,870.9 L1195.7,871.5 L1200.7,872.1 L1205.7,872.7 L1210.7,873.3 L1215.7,873.9 L1220.7,874.5 L1225.7,875.1 L1230.7,875.7 L1235.7,876.3 L1240.7,876.9 L1245.7,877.4 L1250.7,878.0 L1255.7,878.6 L1260.7,879.2 L1265.7,879.8 L1270.7,880.4 L1275.8,881.0 L1280.8,881.6 L1285.8,882.2 L1290.8,882.8 L1295.8,883.4 L1300.8,884.0 L1305.8,884.6 L1310.8,885.2 L1315.8,885.8 L1320.8,886.4 L1325.8,887.0 L1330.8,887.6 L1335.8,888.2 L1340.8,888.8 L1345.8,889.4 L1350.8,890.0 L1355.8,890.6 L1360.9,891.2 L1365.9,891.8 L1370.9,892.4 L1375.9,893.0 L1380.9,893.6 L1385.9,894.2 L1390.9,894.8 L1395.9,895.5 L1400.9,896.1 L1405.9,896.7 L1410.9,897.3 L1415.9,897.9 L1420.9,898.5 L1425.9,899.1 L1430.9,899.7 L1435.9,900.3 L1440.9,900.9 L1446.0,901.5 L1451.0,902.1 L1456.0,902.7 L1461.0,903.3 L1466.0,903.9 L1471.0,904.5 L1476.0,905.1 L1481.0,905.7 L1486.0,906.3 L1491.0,906.9 L1496.0,907.5 L1501.0,908.1 L1506.0,908.7 L1511.0,909.3 L1516.0,909.9 L1521.0,910.6 L1526.0,911.2 L1531.1,911.8 L1536.1,912.4 L1541.1,913.0 L1546.1,913.6 L1551.1,914.2 L1556.1,914.8 L1561.1,915.4 L1566.1,916.0 L1571.1,916.6 L1576.1,917.2 L1581.1,917.8 L1586.1,918.4 L1591.1,919.0 L1596.1,919.6 L1601.1,920.2 L1606.1,920.8 L1611.1,921.4 L1616.2,922.0 L1621.2,922.6 L1626.2,923.2 L1631.2,923.8 L1636.2,924.4 L1641.2,925.0 L1646.2,925.6 L1651.2,926.2 L1656.2,926.8 L1661.2,927.4 L1666.2,928.0 L1671.2,928.6 L1676.2,929.2 L1681.2,929.8 L1686.2,930.4 L1691.2,931.0 L1696.2,931.6 L1701.3,932.2 L1706.3,932.8 L1711.3,933.4 L1716.3,934.0 L1721.3,934.6 L1726.3,935.2 L1731.3,935.8 L1736.3,936.4 L1741.3,937.0 L1746.3,937.6 L1751.3,938.2 L1756.3,938.8 L1761.3,939.4 L1766.3,940.0 L1771.3,940.6 L1776.3,941.2 L1781.3,941.8 L1786.4,942.4 L1791.4,943.0 L1796.4,943.6 L1801.4,944.2 L1806.4,944.8 L1811.4,945.4 L1816.4,946.0 L1821.4,946.6 L1826.4,947.2 L1831.4,947.7 L1836.4,948.3 L1841.4,948.9 L1846.4,949.5 L1851.4,950.1 L1856.4,950.7 L1861.4,951.3 L1866.4,951.9 L1871.5,952.5 L1876.5,953.1 L1881.5,953.7 L1886.5,954.3 L1891.5,954.9 L1896.5,955.5 L1901.5,956.1 L1906.5,956.7 L1911.5,957.3 L1916.5,957.9 L1921.5,958.5 L1926.5,959.1 L1931.5,959.7 L1936.5,960.3 L1941.5,960.9 L1946.5,961.5 L1951.6,962.1 L1956.6,962.7 L1961.6,963.3 L1966.6,963.9 L1971.6,964.5 L1976.6,965.1 L1981.6,965.7 L1986.6,966.3 L1991.6,966.9 L1996.6,967.5 L2001.6,968.1 L2006.6,968.7 L2011.6,969.3 L2016.6,969.9 L2021.6,970.5 L2026.6,971.1 L2031.6,971.7 L2036.7,972.3 L2041.7,972.9 L2046.7,973.4 L2051.7,974.0 L2056.7,974.6 L2061.7,975.2 L2066.7,975.8 L2071.7,976.4 L2076.7,977.0 L2081.7,977.6 L2086.7,978.2 L2091.7,978.8 L2096.7,979.4 L2101.7,980.0 L2106.7,980.6 L2111.7,981.3 L2116.7,981.9 L2121.8,982.5 L2126.8,983.1 L2131.8,983.7 L2136.8,984.3 L2141.8,984.9 L2146.8,985.5 L2151.8,986.1 L2156.8,986.8 L2161.8,987.4 L2166.8,988.0 L2171.8,988.6 L2176.8,989.2 L2181.8,989.8 L2186.8,990.5 L2191.8,991.1 L2196.8,991.7 L2201.8,992.3 L2206.9,992.9 L2211.9,993.6 L2216.9,994.2 L2221.9,994.8 L2226.9,995.4 L2231.9,996.1 L2236.9,996.7 L2241.9,997.3 L2246.9,997.9 L2251.9,998.6 L2256.9,999.2 L2261.9,999.8 L2266.9,1000.5 L2271.9,1001.1 L2276.9,1001.7 L2281.9,1002.3 L2286.9,1003.0 L2292.0,1003.6 L2297.0,1004.2 L2302.0,1004.9 L2307.0,1005.5 L2312.0,1006.1 L2317.0,1006.7 L2322.0,1007.4 L2327.0,1008.0 L2332.0,1008.6 L2332.0,1026.6 L2327.0,1026.1 L2322.0,1025.6 L2317.0,1025.1 L2312.0,1024.6 L2307.0,1024.1 L2302.0,1023.6 L2297.0,1023.1 L2292.0,1022.6 L2286.9,1022.1 L2281.9,1021.6 L2276.9,1021.1 L2271.9,1020.6 L2266.9,1020.1 L2261.9,1019.6 L2256.9,1019.1 L2251.9,1018.6 L2246.9,1018.1 L2241.9,1017.6 L2236.9,1017.0 L2231.9,1016.5 L2226.9,1016.0 L2221.9,1015.5 L2216.9,1015.0 L2211.9,1014.5 L2206.9,1013.9 L2201.8,1013.4 L2196.8,1012.9 L2191.8,1012.4 L2186.8,1011.9 L2181.8,1011.3 L2176.8,1010.8 L2171.8,1010.3 L2166.8,1009.7 L2161.8,1009.2 L2156.8,1008.7 L2151.8,1008.1 L2146.8,1007.6 L2141.8,1007.1 L2136.8,1006.5 L2131.8,1006.0 L2126.8,1005.5 L2121.8,1004.9 L2116.7,1004.4 L2111.7,1003.8 L2106.7,1003.3 L2101.7,1002.7 L2096.7,1002.2 L2091.7,1001.6 L2086.7,1001.1 L2081.7,1000.5 L2076.7,999.9 L2071.7,999.4 L2066.7,998.8 L2061.7,998.3 L2056.7,997.7 L2051.7,997.1 L2046.7,996.6 L2041.7,996.0 L2036.7,995.4 L2031.6,994.9 L2026.6,994.3 L2021.6,993.7 L2016.6,993.2 L2011.6,992.6 L2006.6,992.0 L2001.6,991.4 L1996.6,990.9 L1991.6,990.3 L1986.6,989.7 L1981.6,989.2 L1976.6,988.6 L1971.6,988.0 L1966.6,987.4 L1961.6,986.9 L1956.6,986.3 L1951.6,985.7 L1946.5,985.1 L1941.5,984.6 L1936.5,984.0 L1931.5,983.4 L1926.5,982.8 L1921.5,982.3 L1916.5,981.7 L1911.5,981.1 L1906.5,980.5 L1901.5,979.9 L1896.5,979.4 L1891.5,978.8 L1886.5,978.2 L1881.5,977.6 L1876.5,977.0 L1871.5,976.4 L1866.4,975.8 L1861.4,975.3 L1856.4,974.7 L1851.4,974.1 L1846.4,973.5 L1841.4,972.9 L1836.4,972.3 L1831.4,971.7 L1826.4,971.1 L1821.4,970.5 L1816.4,970.0 L1811.4,969.4 L1806.4,968.8 L1801.4,968.2 L1796.4,967.6 L1791.4,967.0 L1786.4,966.4 L1781.3,965.8 L1776.3,965.2 L1771.3,964.6 L1766.3,964.0 L1761.3,963.4 L1756.3,962.8 L1751.3,962.2 L1746.3,961.6 L1741.3,961.0 L1736.3,960.4 L1731.3,959.8 L1726.3,959.2 L1721.3,958.6 L1716.3,958.0 L1711.3,957.4 L1706.3,956.8 L1701.3,956.2 L1696.2,955.6 L1691.2,955.0 L1686.2,954.4 L1681.2,953.8 L1676.2,953.2 L1671.2,952.6 L1666.2,952.0 L1661.2,951.4 L1656.2,950.8 L1651.2,950.2 L1646.2,949.6 L1641.2,949.0 L1636.2,948.4 L1631.2,947.8 L1626.2,947.2 L1621.2,946.6 L1616.2,946.0 L1611.1,945.4 L1606.1,944.8 L1601.1,944.2 L1596.1,943.6 L1591.1,943.0 L1586.1,942.4 L1581.1,941.8 L1576.1,941.2 L1571.1,940.6 L1566.1,940.0 L1561.1,939.4 L1556.1,938.8 L1551.1,938.2 L1546.1,937.6 L1541.1,937.0 L1536.1,936.4 L1531.1,935.8 L1526.0,935.2 L1521.0,934.6 L1516.0,933.9 L1511.0,933.3 L1506.0,932.7 L1501.0,932.1 L1496.0,931.5 L1491.0,930.9 L1486.0,930.3 L1481.0,929.7 L1476.0,929.1 L1471.0,928.5 L1466.0,927.9 L1461.0,927.3 L1456.0,926.7 L1451.0,926.1 L1446.0,925.5 L1440.9,924.9 L1435.9,924.3 L1430.9,923.7 L1425.9,923.1 L1420.9,922.5 L1415.9,921.9 L1410.9,921.3 L1405.9,920.7 L1400.9,920.1 L1395.9,919.5 L1390.9,918.8 L1385.9,918.2 L1380.9,917.6 L1375.9,917.0 L1370.9,916.4 L1365.9,915.8 L1360.9,915.2 L1355.8,914.6 L1350.8,914.0 L1345.8,913.4 L1340.8,912.8 L1335.8,912.2 L1330.8,911.6 L1325.8,911.0 L1320.8,910.4 L1315.8,909.8 L1310.8,909.2 L1305.8,908.6 L1300.8,908.0 L1295.8,907.4 L1290.8,906.8 L1285.8,906.2 L1280.8,905.6 L1275.8,905.0 L1270.7,904.4 L1265.7,903.8 L1260.7,903.2 L1255.7,902.6 L1250.7,902.0 L1245.7,901.4 L1240.7,900.9 L1235.7,900.3 L1230.7,899.7 L1225.7,899.1 L1220.7,898.5 L1215.7,897.9 L1210.7,897.3 L1205.7,896.7 L1200.7,896.1 L1195.7,895.5 L1190.7,894.9 L1185.6,894.3 L1180.6,893.8 L1175.6,893.2 L1170.6,892.6 L1165.6,892.0 L1160.6,891.4 L1155.6,890.8 L1150.6,890.2 L1145.6,889.6 L1140.6,888.9 L1135.6,888.3 L1130.6,887.7 L1125.6,887.1 L1120.6,886.5 L1115.6,885.8 L1110.6,885.2 L1105.6,884.6 L1100.5,884.0 L1095.5,883.3 L1090.5,882.7 L1085.5,882.1 L1080.5,881.4 L1075.5,880.8 L1070.5,880.1 L1065.5,879.5 L1060.5,878.9 L1055.5,878.2 L1050.5,877.6 L1045.5,877.0 L1040.5,876.3 L1035.5,875.7 L1030.5,875.1 L1025.5,874.4 L1020.4,873.8 L1015.4,873.2 L1010.4,872.5 L1005.4,871.9 L1000.4,871.3 L995.4,870.6 L990.4,870.0 L985.4,869.4 L980.4,868.8 L975.4,868.2 L970.4,867.5 L965.4,866.9 L960.4,866.3 L955.4,865.7 L950.4,865.1 L945.4,864.5 L940.4,863.8 L935.3,863.2 L930.3,862.6 L925.3,862.0 L920.3,861.3 L915.3,860.7 L910.3,860.1 L905.3,859.4 L900.3,858.8 L895.3,858.1 L890.3,857.5 L885.3,856.9 L880.3,856.2 L875.3,855.6 L870.3,854.9 L865.3,854.3 L860.3,853.6 L855.3,853.0 L850.2,852.3 L845.2,851.7 L840.2,851.0 L835.2,850.4 L830.2,849.7 L825.2,849.1 L820.2,848.4 L815.2,847.8 L810.2,847.1 L805.2,846.4 L800.2,845.8 L795.2,845.1 L790.2,844.4 L785.2,843.7 L780.2,843.0 L775.2,842.3 L770.2,841.6 L765.1,840.9 L760.1,840.1 L755.1,839.4 L750.1,838.6 L745.1,837.8 L740.1,836.9 L735.1,836.1 L730.1,835.2 L725.1,834.3 L720.1,833.4 L715.1,832.4 L710.1,831.4 L705.1,830.3 L700.1,829.2 L695.1,828.0 L690.1,826.8 L685.1,825.5 L680.0,824.2 L675.0,822.8 L670.0,821.3 L665.0,819.8 L660.0,818.2 L655.0,816.5 L650.0,814.6 L645.0,812.6 L640.0,810.5 Z" fill="#d62728" stroke="#d62728" stroke-width="1"/>
<path d="M413.7,75.0 L418.0,106.0 L424.0,200.0 L428.0,400.0 L432.0,550.0 L438.0,700.0 L446.0,780.0 L455.0,795.0 L462.0,700.0 L466.0,560.0 L472.0,446.0 L477.0,446.0 L480.0,560.0 L484.0,700.0 L487.0,770.0 L495.0,776.0 L509.0,780.0 L545.0,814.0 L582.0,849.0 L609.0,863.0 L636.0,876.0 L700.0,880.0 L735.0,879.0 L759.0,889.0 L795.0,894.0 L820.0,894.0 L892.0,906.0" fill="none" stroke="#9467bd" stroke-width="10" stroke-linejoin="round" stroke-linecap="butt" />
<path d="M892.0,906.0 L897.0,907.2 L902.0,908.4 L907.0,909.6 L912.0,910.9 L917.0,912.1 L922.0,913.3 L927.0,914.5 L932.0,915.8 L937.0,917.0 L942.0,918.2 L947.0,919.5 L952.0,920.7 L957.0,921.9 L962.0,923.1 L967.0,924.3 L972.0,925.5 L977.0,926.8 L982.0,928.1 L987.0,929.4 L992.0,930.9 L997.0,932.4 L1002.0,934.0 L1007.0,935.7 L1012.0,937.4 L1017.0,939.1 L1022.0,940.7 L1027.0,942.3 L1032.0,943.7 L1037.0,945.0 L1042.0,946.2 L1047.0,947.3 L1052.0,948.4 L1057.0,949.4 L1062.0,950.4 L1067.0,951.3 L1072.0,952.2 L1077.0,953.1 L1082.0,953.9 L1087.0,954.8 L1092.0,955.6 L1097.0,956.4 L1102.0,957.2 L1107.0,958.1 L1112.0,958.9 L1117.0,959.7 L1122.0,960.6 L1127.0,961.5 L1132.0,962.4 L1137.0,963.3 L1142.0,964.3 L1147.0,965.4 L1152.0,966.4 L1157.0,967.6 L1162.0,968.7 L1167.0,969.9 L1172.0,971.1 L1177.0,972.4 L1182.0,973.7 L1187.0,975.0 L1192.0,976.3 L1197.0,977.7 L1202.0,979.1 L1207.0,980.5 L1212.0,981.9 L1217.0,983.3 L1222.0,984.7 L1227.0,986.1 L1232.0,987.6 L1237.0,989.0 L1242.0,990.4 L1247.0,991.8 L1252.0,993.3 L1257.0,994.7 L1262.0,996.1 L1267.0,997.4 L1272.0,998.8 L1277.0,1000.1 L1282.0,1001.5 L1287.0,1002.8 L1292.0,1004.0 L1297.0,1005.3 L1302.0,1006.5 L1307.0,1007.7 L1312.0,1008.8 L1317.0,1010.0 L1322.0,1011.1 L1327.0,1012.3 L1332.0,1013.4 L1337.0,1014.5 L1342.0,1015.6 L1347.0,1016.7 L1352.0,1017.8 L1357.0,1018.8 L1362.0,1019.9 L1367.0,1021.0 L1372.0,1022.0 L1377.0,1023.1 L1382.0,1024.1 L1387.0,1025.2 L1392.0,1026.3 L1397.0,1027.3 L1402.0,1028.4 L1407.0,1029.5 L1412.0,1030.5 L1417.0,1031.6 L1422.0,1032.7 L1427.0,1033.8 L1432.0,1034.9 L1437.0,1036.0 L1442.0,1037.2 L1447.0,1038.3 L1452.0,1039.5 L1457.0,1040.6 L1462.0,1041.8 L1467.0,1043.1 L1472.0,1044.3 L1477.0,1045.5 L1482.0,1046.8 L1487.0,1048.1 L1492.0,1049.3 L1497.0,1050.6 L1502.0,1051.9 L1507.0,1053.2 L1512.0,1054.5 L1517.0,1055.8 L1522.0,1057.1 L1527.0,1058.4 L1532.0,1059.7 L1537.0,1061.0 L1542.0,1062.2 L1547.0,1063.5 L1552.0,1064.8 L1557.0,1066.0 L1562.0,1067.2 L1567.0,1068.5 L1572.0,1069.7 L1577.0,1070.8 L1582.0,1072.0 L1587.0,1073.1 L1592.0,1074.3 L1597.0,1075.4 L1602.0,1076.4 L1607.0,1077.5 L1612.0,1078.5 L1617.0,1079.5 L1622.0,1080.5 L1627.0,1081.5 L1632.0,1082.4 L1637.0,1083.4 L1642.0,1084.3 L1647.0,1085.3 L1652.0,1086.2 L1657.0,1087.1 L1662.0,1088.0 L1667.0,1088.9 L1672.0,1089.8 L1677.0,1090.8 L1682.0,1091.7 L1687.0,1092.6 L1692.0,1093.5 L1697.0,1094.4 L1702.0,1095.4 L1707.0,1096.3 L1712.0,1097.3 L1717.0,1098.2 L1722.0,1099.2 L1727.0,1100.1 L1732.0,1101.1 L1737.0,1102.0 L1742.0,1103.0 L1747.0,1103.9 L1752.0,1104.9 L1757.0,1105.8 L1762.0,1106.7 L1767.0,1107.7 L1772.0,1108.6 L1777.0,1109.5 L1782.0,1110.4 L1787.0,1111.3 L1792.0,1112.1 L1797.0,1113.0 L1802.0,1113.8 L1807.0,1114.7 L1812.0,1115.5 L1817.0,1116.3 L1822.0,1117.1 L1827.0,1117.9 L1832.0,1118.7 L1837.0,1119.5 L1842.0,1120.3 L1847.0,1121.1 L1852.0,1121.8 L1857.0,1122.6 L1862.0,1123.3 L1867.0,1124.1 L1872.0,1124.9 L1877.0,1125.6 L1882.0,1126.3 L1887.0,1127.1 L1892.0,1127.8 L1897.0,1128.6 L1902.0,1129.3 L1907.0,1130.0 L1912.0,1130.7 L1917.0,1131.3 L1922.0,1132.0 L1927.0,1132.6 L1932.0,1133.2 L1937.0,1133.8 L1942.0,1134.5 L1947.0,1135.1 L1952.0,1135.7 L1957.0,1136.3 L1962.0,1137.0 L1967.0,1137.7 L1972.0,1138.4 L1977.0,1139.1 L1982.0,1139.9 L1987.0,1140.7 L1992.0,1141.5 L1997.0,1142.4 L2002.0,1143.4 L2007.0,1144.5 L2012.0,1145.7 L2017.0,1147.0 L2022.0,1148.4 L2027.0,1149.9 L2032.0,1151.4 L2037.0,1152.9 L2042.0,1154.3 L2047.0,1155.8 L2052.0,1157.1 L2057.0,1158.6 L2062.0,1160.0 L2067.0,1161.5 L2072.0,1162.9 L2077.0,1164.4 L2082.0,1165.8 L2087.0,1167.1 L2092.0,1168.3 L2097.0,1169.4 L2102.0,1170.4 L2107.0,1171.3 L2112.0,1172.1 L2117.0,1173.0 L2122.0,1173.7 L2127.0,1174.5 L2132.0,1175.2 L2137.0,1175.9 L2142.0,1176.5 L2147.0,1177.2 L2152.0,1177.8 L2157.0,1178.4 L2162.0,1179.1 L2167.0,1179.7 L2172.0,1180.3 L2177.0,1180.9 L2182.0,1181.6 L2187.0,1182.2 L2192.0,1182.9 L2197.0,1183.6 L2202.0,1184.3 L2207.0,1185.0 L2212.0,1185.7 L2217.0,1186.5 L2222.0,1187.2 L2227.0,1188.0 L2232.0,1188.7 L2237.0,1189.4 L2242.0,1190.2 L2247.0,1190.9 L2252.0,1191.7 L2257.0,1192.4 L2262.0,1193.2 L2267.0,1193.9 L2272.0,1194.7 L2277.0,1195.5 L2282.0,1196.2 L2287.0,1197.0 L2292.0,1197.8 L2297.0,1198.5 L2302.0,1199.3 L2307.0,1200.1 L2312.0,1200.9 L2317.0,1201.6 L2322.0,1202.4 L2327.0,1203.2 L2332.0,1204.0" fill="none" stroke="#9467bd" stroke-width="12" stroke-linejoin="round" stroke-linecap="butt" />
<path d="M413.7,75.0 L416.0,300.0 L425.0,550.0 L436.0,700.0 L447.0,780.0 L460.0,815.0 L476.0,825.0 L492.0,815.0 L500.0,790.0 L505.0,700.0 L512.0,670.0 L521.0,661.0 L532.0,680.0 L540.0,720.0 L547.0,790.0 L556.0,830.0 L566.0,858.0 L582.0,885.0 L600.0,900.0 L630.0,914.0 L658.0,894.0 L669.0,867.0 L678.0,840.0 L694.0,809.0 L702.0,802.0 L722.6,835.7 L737.0,869.6 L751.7,896.0 L771.0,915.6 L790.0,918.0 L807.0,910.7 L824.0,898.6 L843.7,889.0 L860.7,893.8 L872.8,906.0 L892.0,925.0 L916.0,949.5 L940.6,958.0 L989.0,959.0 L1025.0,973.7 L1100.0,995.0 L1200.0,1042.5 L1300.0,1079.0 L1370.0,1095.0 L1430.0,1129.7 L1500.0,1131.5 L1530.0,1146.0 L1600.0,1170.0 L1700.0,1188.4 L1750.0,1206.6 L1800.0,1222.5 L1900.0,1236.0 L2000.0,1258.8 L2100.0,1272.4 L2150.0,1290.6 L2200.0,1308.7 L2332.0,1322.3" fill="none" stroke="#8c564b" stroke-width="13" stroke-linejoin="round" stroke-linecap="butt" />
</g>
<g clip-path="url(#cb)">
<path d="M380.9,1776.5 L383.0,1780.9 L385.0,1785.3 L387.1,1789.7 L389.2,1794.2 L391.2,1798.6 L393.3,1803.1 L395.3,1807.6 L397.3,1812.1 L399.4,1816.6 L401.4,1821.1 L403.4,1825.7 L405.4,1830.2 L407.4,1834.8 L409.3,1839.4 L411.3,1844.0 L413.3,1848.6 L415.2,1853.2 L417.1,1857.8 L419.0,1862.4 L420.9,1867.1 L422.8,1871.7 L424.7,1876.4 L426.6,1881.1 L428.4,1885.8 L430.2,1890.5 L432.0,1895.2 L433.8,1899.9 L435.6,1904.6 L437.4,1909.3 L439.1,1914.0 L440.9,1918.8 L442.6,1923.5 L444.3,1928.3 L445.9,1933.0 L447.6,1937.8 L449.2,1942.6 L450.8,1947.3 L452.4,1952.1 L454.0,1956.9 L455.5,1961.7 L457.1,1966.4 L458.6,1971.2 L460.0,1976.0 L461.5,1980.8 L462.9,1985.6 L464.3,1990.4 L465.7,1995.2 L467.1,2000.0 L468.4,2004.8 L469.8,2009.6 L471.1,2014.4 L472.4,2019.3 L473.6,2024.1 L474.9,2028.9 L476.1,2033.7 L477.3,2038.5 L478.5,2043.4 L479.7,2048.2 L480.9,2053.0 L482.0,2057.9 L483.1,2062.7 L484.2,2067.5 L485.3,2072.4 L486.4,2077.2 L487.5,2082.1 L488.5,2086.9 L489.6,2091.8 L490.6,2096.6 L491.6,2101.5 L492.6,2106.3 L493.5,2111.2 L494.5,2116.0 L495.4,2120.9 L496.4,2125.8 L497.3,2130.6 L498.2,2135.5 L499.1,2140.4 L500.0,2145.3 L500.9,2150.1 L501.8,2155.0 L502.6,2159.9 L503.5,2164.8 L504.3,2169.7 L505.1,2174.5 L505.9,2179.4 L506.8,2184.3 L507.6,2189.2 L508.4,2194.1 L509.1,2199.0 L509.9,2203.9 L510.7,2208.8 L511.5,2213.7 L512.2,2218.6 L513.0,2223.5 L513.7,2228.4 L514.5,2233.3 L515.2,2238.2 L515.9,2243.1 L516.7,2248.1 L517.4,2253.0 L518.1,2257.9 L518.8,2262.8 L519.5,2267.7 L520.3,2272.7 L521.0,2277.6 L521.7,2282.5 L522.4,2287.4 L523.1,2292.4 L523.8,2297.3 L524.5,2302.2 L525.2,2307.2 L525.9,2312.1 L526.6,2317.0 L527.3,2322.0 L528.0,2326.9 L528.7,2331.9 L529.4,2336.8 L530.1,2341.7 L530.8,2346.7 L531.6,2351.6 L532.3,2356.6 L533.0,2361.5 L533.7,2366.5 L534.5,2371.4 L535.2,2376.4 L535.9,2381.4 L536.7,2386.3 L537.4,2391.3 L538.2,2396.2 L538.9,2401.2 L539.7,2406.2 L540.5,2411.1 L541.2,2416.1 L542.0,2421.0 L542.8,2426.0 L543.6,2431.0 L544.4,2436.0 L545.2,2440.9 L546.1,2445.9 L546.9,2450.9 L547.8,2455.8 L548.6,2460.8 L549.5,2465.8 L550.3,2470.8 L551.2,2475.8 L552.1,2480.7 L553.0,2485.7 L554.0,2490.7 L554.9,2495.7 L555.8,2500.7 L556.8,2505.6 L557.8,2510.6 L558.8,2515.6 L559.8,2520.6 L560.8,2525.6 L561.8,2530.6 L562.8,2535.6 L563.9,2540.6 L565.0,2545.6 L566.1,2550.5 L567.2,2555.5 L568.3,2560.5 L569.4,2565.5 L570.6,2570.5 L571.7,2575.5 L572.9,2580.5 L574.1,2585.5 L575.4,2590.5 L576.6,2595.5 L577.9,2600.5 L579.2,2605.4 L580.5,2610.4 L581.9,2615.3 L583.3,2620.2 L584.7,2625.1 L586.2,2630.0 L587.7,2634.9 L589.2,2639.7 L590.8,2644.5 L592.4,2649.2 L594.1,2654.0 L595.8,2658.7 L597.5,2663.3 L599.3,2667.9 L601.1,2672.5 L603.0,2677.0 L605.0,2681.5 L607.0,2685.9 L609.1,2690.3 L611.2,2694.6 L613.3,2698.9 L615.6,2703.1 L617.9,2707.2 L620.2,2711.3 L622.7,2715.3 L625.2,2719.3 L627.7,2723.1 L630.4,2726.9 L633.1,2730.7 L635.9,2734.3 L638.7,2737.9 L641.7,2741.4 L644.7,2744.8 L647.8,2748.1 L651.0,2751.3 L654.2,2754.4 L657.6,2757.5 L661.0,2760.4 L664.5,2763.2 L668.2,2766.0 L671.9,2768.6 L675.7,2771.2 L679.6,2773.6 L683.6,2775.9 L687.7,2778.1 L691.9,2780.2 L696.1,2782.2 L700.5,2784.1 L704.9,2785.9 L709.4,2787.7 L714.0,2789.3 L718.6,2790.9 L723.3,2792.3 L728.1,2793.7 L732.9,2795.1 L737.8,2796.3 L742.7,2797.5 L747.7,2798.6 L752.7,2799.7 L757.7,2800.7 L762.8,2801.6 L767.9,2802.5 L773.1,2803.3 L778.3,2804.1 L783.4,2804.9 L788.7,2805.6 L793.9,2806.2 L799.1,2806.9 L804.4,2807.5 L809.6,2808.1 L814.8,2808.6 L820.1,2809.1 L825.3,2809.6 L830.5,2810.1 L835.7,2810.6 L840.9,2811.1 L846.1,2811.6 L851.3,2812.0 L856.4,2812.4 L861.6,2812.9 L866.7,2813.3 L871.8,2813.7 L876.9,2814.1 L882.0,2814.5 L887.1,2814.8 L892.2,2815.2 L897.2,2815.6 L902.3,2815.9 L907.3,2816.3 L912.4,2816.6 L917.4,2816.9 L922.4,2817.3 L927.5,2817.6 L932.5,2817.9 L937.5,2818.2 L942.5,2818.5 L947.5,2818.9 L952.5,2819.2 L957.4,2819.5 L962.4,2819.8 L967.4,2820.1 L972.4,2820.3 L977.4,2820.6 L982.3,2820.9 L987.3,2821.2 L992.3,2821.5 L997.2,2821.8 L1002.2,2822.1 L1007.2,2822.4 L1012.2,2822.7 L1017.1,2823.0 L1022.1,2823.3 L1027.1,2823.6 L1032.0,2823.9 L1037.0,2824.2 L1042.0,2824.5 L1046.9,2824.8 L1051.9,2825.1 L1056.9,2825.4 L1061.9,2825.8 L1066.8,2826.1 L1071.8,2826.4 L1076.8,2826.7 L1081.7,2827.0 L1086.7,2827.3 L1091.7,2827.6 L1096.6,2828.0 L1101.6,2828.3 L1106.6,2828.6 L1111.6,2828.9 L1116.5,2829.2 L1121.5,2829.6 L1126.5,2829.9 L1131.4,2830.2 L1136.4,2830.6 L1141.4,2830.9 L1146.4,2831.2 L1151.3,2831.5 L1156.3,2831.9 L1161.3,2832.2 L1166.2,2832.5 L1171.2,2832.9 L1176.2,2833.2 L1181.2,2833.6 L1186.1,2833.9 L1191.1,2834.2 L1196.1,2834.6 L1201.0,2834.9 L1206.0,2835.3 L1211.0,2835.6 L1216.0,2835.9 L1220.9,2836.3 L1225.9,2836.6 L1230.9,2837.0 L1235.8,2837.3 L1240.8,2837.7 L1245.8,2838.0 L1250.8,2838.4 L1255.7,2838.7 L1260.7,2839.1 L1265.7,2839.4 L1270.7,2839.8 L1275.6,2840.2 L1280.6,2840.5 L1285.6,2840.9 L1290.6,2841.2 L1295.5,2841.6 L1300.5,2842.0 L1305.5,2842.3 L1310.4,2842.7 L1315.4,2843.0 L1320.4,2843.4 L1325.4,2843.8 L1330.3,2844.1 L1335.3,2844.5 L1340.3,2844.9 L1345.3,2845.2 L1350.2,2845.6 L1355.2,2846.0 L1360.2,2846.3 L1365.2,2846.7 L1370.1,2847.1 L1375.1,2847.5 L1380.1,2847.8 L1385.1,2848.2 L1390.0,2848.6 L1395.0,2848.9 L1400.0,2849.3 L1405.0,2849.7 L1409.9,2850.1 L1414.9,2850.5 L1419.9,2850.8 L1424.9,2851.2 L1429.8,2851.6 L1434.8,2852.0 L1439.8,2852.3 L1444.8,2852.7 L1449.7,2853.1 L1454.7,2853.5 L1459.7,2853.9 L1464.7,2854.3 L1469.6,2854.6 L1474.6,2855.0 L1479.6,2855.4 L1484.6,2855.8 L1489.5,2856.2 L1494.5,2856.6 L1499.5,2857.0 L1504.5,2857.3 L1509.4,2857.7 L1514.4,2858.1 L1519.4,2858.5 L1524.4,2858.9 L1529.3,2859.3 L1534.3,2859.7 L1539.3,2860.1 L1544.3,2860.5 L1549.3,2860.8 L1554.2,2861.2 L1559.2,2861.6 L1564.2,2862.0 L1569.2,2862.4 L1574.1,2862.8 L1579.1,2863.2 L1584.1,2863.6 L1589.1,2864.0 L1594.0,2864.4 L1599.0,2864.8 L1604.0,2865.2 L1609.0,2865.6 L1614.0,2866.0 L1618.9,2866.4 L1623.9,2866.7 L1628.9,2867.1 L1633.9,2867.5 L1638.8,2867.9 L1643.8,2868.3 L1648.8,2868.7 L1653.8,2869.1 L1658.7,2869.5 L1663.7,2869.9 L1668.7,2870.3 L1673.7,2870.7 L1678.7,2871.1 L1683.6,2871.5 L1688.6,2871.9 L1693.6,2872.3 L1698.6,2872.7 L1703.5,2873.1 L1708.5,2873.5 L1713.5,2873.9 L1718.5,2874.3 L1723.5,2874.7 L1728.4,2875.1 L1733.4,2875.5 L1738.4,2875.9 L1743.4,2876.3 L1748.3,2876.7 L1753.3,2877.1 L1758.3,2877.5 L1763.3,2877.9 L1768.3,2878.3 L1773.2,2878.7 L1778.2,2879.1 L1783.2,2879.5 L1788.2,2879.9 L1793.2,2880.3 L1798.1,2880.7 L1803.1,2881.1 L1808.1,2881.5 L1813.1,2881.9 L1818.0,2882.3 L1823.0,2882.7 L1828.0,2883.1 L1833.0,2883.5 L1838.0,2883.9 L1842.9,2884.3 L1847.9,2884.7 L1852.9,2885.1 L1857.9,2885.5 L1862.9,2885.9 L1867.8,2886.3 L1872.8,2886.7 L1877.8,2887.1 L1882.8,2887.5 L1887.8,2887.9 L1892.7,2888.3 L1897.7,2888.7 L1902.7,2889.1 L1907.7,2889.5 L1912.6,2889.9 L1917.6,2890.3 L1922.6,2890.7 L1927.6,2891.1 L1932.6,2891.5 L1937.5,2891.8 L1942.5,2892.2 L1947.5,2892.6 L1952.5,2893.0 L1957.5,2893.4 L1962.4,2893.8 L1967.4,2894.2 L1972.4,2894.6 L1977.4,2895.0 L1982.4,2895.4 L1987.3,2895.8 L1992.3,2896.2 L1997.3,2896.6 L2002.3,2897.0 L2007.3,2897.3 L2012.2,2897.7 L2017.2,2898.1 L2022.2,2898.5 L2027.2,2898.9 L2032.2,2899.3 L2037.1,2899.7 L2042.1,2900.1 L2047.1,2900.4 L2052.1,2900.8 L2057.1,2901.2 L2062.0,2901.6 L2067.0,2902.0 L2072.0,2902.4 L2077.0,2902.8 L2082.0,2903.1 L2086.9,2903.5 L2091.9,2903.9 L2096.9,2904.3 L2101.9,2904.7 L2106.9,2905.0 L2111.8,2905.4 L2116.8,2905.8 L2121.8,2906.2 L2126.8,2906.6 L2131.8,2906.9 L2136.7,2907.3 L2141.7,2907.7 L2146.7,2908.1 L2151.7,2908.4 L2156.7,2908.8 L2161.6,2909.2 L2166.6,2909.6 L2171.6,2909.9 L2176.6,2910.3 L2181.6,2910.7 L2186.5,2911.0 L2191.5,2911.4 L2196.5,2911.8 L2201.5,2912.1 L2206.5,2912.5 L2211.4,2912.9 L2216.4,2913.2 L2221.4,2913.6 L2226.4,2914.0 L2231.4,2914.3 L2236.3,2914.7 L2241.3,2915.1 L2246.3,2915.4 L2251.3,2915.8 L2256.3,2916.1 L2261.2,2916.5 L2266.2,2916.9 L2271.2,2917.2 L2276.2,2917.6 L2281.2,2917.9 L2286.1,2918.3 L2291.1,2918.6 L2296.1,2919.0 L2301.1,2919.3 L2306.1,2919.7 L2311.0,2920.0 L2316.0,2920.4 L2321.0,2920.7 L2326.0,2921.1" fill="none" stroke="#1f77b4" stroke-width="9.4" stroke-linejoin="round" stroke-linecap="butt" />
<path d="M379.4,1739.7 L382.8,1743.3 L386.3,1746.7 L390.0,1750.0 L393.7,1753.1 L397.5,1756.2 L401.3,1759.2 L405.3,1762.1 L409.3,1764.9 L413.4,1767.6 L417.5,1770.3 L421.7,1772.9 L426.0,1775.4 L430.3,1777.8 L434.7,1780.2 L439.0,1782.6 L443.5,1784.9 L447.9,1787.1 L452.4,1789.4 L456.9,1791.6 L461.4,1793.7 L465.9,1795.9 L470.4,1798.1 L475.0,1800.2 L479.5,1802.3 L484.1,1804.4 L488.6,1806.5 L493.2,1808.6 L497.7,1810.7 L502.3,1812.8 L506.9,1814.8 L511.4,1816.9 L516.0,1819.0 L520.5,1821.1 L525.1,1823.1 L529.6,1825.2 L534.2,1827.3 L538.7,1829.4 L543.2,1831.5 L547.8,1833.6 L552.3,1835.7 L556.8,1837.9 L561.3,1840.0 L565.8,1842.2 L570.3,1844.3 L574.7,1846.5 L579.2,1848.8 L583.6,1851.0 L588.0,1853.3 L592.4,1855.6 L596.8,1857.9 L601.2,1860.2 L605.5,1862.6 L609.9,1865.0 L614.2,1867.4 L618.5,1869.9 L622.7,1872.4 L627.0,1874.9 L631.2,1877.5 L635.3,1880.1 L639.5,1882.8 L643.6,1885.5 L647.7,1888.2 L651.8,1891.0 L655.8,1893.8 L659.8,1896.7 L663.8,1899.6 L667.8,1902.5 L671.8,1905.4 L675.7,1908.3 L679.7,1911.3 L683.6,1914.3 L687.6,1917.3 L691.5,1920.3 L695.4,1923.3 L699.4,1926.3 L703.3,1929.3 L707.3,1932.3 L711.2,1935.3 L715.2,1938.3 L719.2,1941.3 L723.2,1944.3 L727.2,1947.2 L731.2,1950.2 L735.2,1953.2 L739.2,1956.1 L743.2,1959.1 L747.2,1962.1 L751.2,1965.1 L755.2,1968.1 L759.2,1971.1 L763.2,1974.1 L767.2,1977.1 L771.1,1980.2 L775.1,1983.2 L779.0,1986.3 L782.9,1989.4 L786.8,1992.5 L790.7,1995.6 L794.6,1998.7 L798.5,2001.8 L802.3,2005.0 L806.2,2008.1 L810.0,2011.3 L813.8,2014.5 L817.7,2017.6 L821.5,2020.8 L825.3,2024.0 L829.1,2027.3 L832.8,2030.5 L836.6,2033.7 L840.4,2037.0 L844.1,2040.3 L847.9,2043.5 L851.6,2046.8 L855.3,2050.1 L859.1,2053.4 L862.8,2056.7 L866.5,2060.0 L870.2,2063.3 L873.9,2066.7 L877.6,2070.0 L881.2,2073.3 L884.9,2076.7 L888.6,2080.1 L892.2,2083.4 L895.9,2086.8 L899.5,2090.2 L903.2,2093.6 L906.8,2097.0 L910.5,2100.4 L914.1,2103.8 L917.7,2107.2 L921.3,2110.6 L925.0,2114.0 L928.6,2117.4 L932.2,2120.9 L935.8,2124.3 L939.4,2127.7 L943.0,2131.2 L946.6,2134.6 L950.2,2138.1 L953.8,2141.5 L957.4,2145.0 L961.0,2148.4 L964.6,2151.9 L968.2,2155.4 L971.7,2158.8 L975.3,2162.3 L978.9,2165.8 L982.5,2169.2 L986.1,2172.7 L989.7,2176.2 L993.3,2179.6 L996.8,2183.1 L1000.4,2186.6 L1004.0,2190.1 L1007.6,2193.5 L1011.2,2197.0 L1014.8,2200.5 L1018.4,2204.0 L1022.0,2207.4 L1025.6,2210.9 L1029.2,2214.4 L1032.8,2217.8 L1036.4,2221.3 L1040.0,2224.8 L1043.6,2228.2 L1047.2,2231.7 L1050.8,2235.2 L1054.4,2238.6 L1058.1,2242.1 L1061.7,2245.5 L1065.3,2249.0 L1069.0,2252.4 L1072.6,2255.8 L1076.2,2259.3 L1079.9,2262.7 L1083.5,2266.1 L1087.2,2269.5 L1090.9,2272.9 L1094.5,2276.4 L1098.2,2279.8 L1101.9,2283.2 L1105.6,2286.6 L1109.3,2289.9 L1113.0,2293.3 L1116.7,2296.7 L1120.4,2300.1 L1124.1,2303.4 L1127.8,2306.8 L1131.5,2310.1 L1135.3,2313.5 L1139.0,2316.8 L1142.8,2320.1 L1146.5,2323.4 L1150.3,2326.7 L1154.0,2330.0 L1157.8,2333.3 L1161.6,2336.6 L1165.4,2339.8 L1169.2,2343.1 L1173.0,2346.4 L1176.8,2349.6 L1180.6,2352.8 L1184.4,2356.0 L1188.3,2359.2 L1192.1,2362.4 L1195.9,2365.6 L1199.8,2368.8 L1203.7,2372.0 L1207.5,2375.1 L1211.4,2378.2 L1215.3,2381.4 L1219.2,2384.5 L1223.1,2387.6 L1227.0,2390.7 L1231.0,2393.8 L1234.9,2396.8 L1238.8,2399.9 L1242.8,2402.9 L1246.8,2405.9 L1250.7,2408.9 L1254.7,2411.9 L1258.7,2414.9 L1262.7,2417.8 L1266.7,2420.8 L1270.7,2423.7 L1274.8,2426.6 L1278.8,2429.5 L1282.9,2432.4 L1286.9,2435.3 L1291.0,2438.1 L1295.1,2441.0 L1299.2,2443.8 L1303.3,2446.6 L1307.4,2449.4 L1311.6,2452.1 L1315.7,2454.9 L1319.9,2457.6 L1324.0,2460.3 L1328.2,2463.0 L1332.4,2465.7 L1336.6,2468.4 L1340.8,2471.0 L1345.0,2473.6 L1349.3,2476.2 L1353.5,2478.8 L1357.8,2481.3 L1362.1,2483.9 L1366.3,2486.4 L1370.6,2488.9 L1374.9,2491.4 L1379.3,2493.9 L1383.6,2496.3 L1387.9,2498.7 L1392.3,2501.1 L1396.7,2503.5 L1401.0,2505.9 L1405.4,2508.3 L1409.8,2510.6 L1414.2,2512.9 L1418.6,2515.2 L1423.1,2517.5 L1427.5,2519.8 L1431.9,2522.0 L1436.4,2524.3 L1440.9,2526.5 L1445.3,2528.7 L1449.8,2530.8 L1454.3,2533.0 L1458.8,2535.2 L1463.3,2537.3 L1467.9,2539.4 L1472.4,2541.5 L1476.9,2543.6 L1481.5,2545.6 L1486.0,2547.7 L1490.6,2549.7 L1495.2,2551.7 L1499.7,2553.7 L1504.3,2555.7 L1508.9,2557.7 L1513.5,2559.6 L1518.1,2561.6 L1522.7,2563.5 L1527.4,2565.4 L1532.0,2567.3 L1536.6,2569.1 L1541.3,2571.0 L1545.9,2572.8 L1550.6,2574.7 L1555.2,2576.5 L1559.9,2578.3 L1564.6,2580.1 L1569.3,2581.8 L1574.0,2583.6 L1578.7,2585.3 L1583.4,2587.0 L1588.1,2588.8 L1592.8,2590.5 L1597.5,2592.1 L1602.2,2593.8 L1606.9,2595.5 L1611.7,2597.1 L1616.4,2598.7 L1621.1,2600.4 L1625.9,2602.0 L1630.6,2603.5 L1635.4,2605.1 L1640.1,2606.7 L1644.9,2608.2 L1649.7,2609.8 L1654.4,2611.3 L1659.2,2612.8 L1664.0,2614.3 L1668.8,2615.8 L1673.6,2617.3 L1678.3,2618.7 L1683.1,2620.2 L1687.9,2621.6 L1692.7,2623.0 L1697.5,2624.4 L1702.3,2625.8 L1707.1,2627.2 L1711.9,2628.6 L1716.7,2630.0 L1721.5,2631.3 L1726.3,2632.7 L1731.2,2634.0 L1736.0,2635.3 L1740.8,2636.6 L1745.6,2637.9 L1750.4,2639.2 L1755.3,2640.5 L1760.1,2641.7 L1764.9,2643.0 L1769.8,2644.2 L1774.6,2645.5 L1779.4,2646.7 L1784.3,2647.9 L1789.1,2649.1 L1794.0,2650.3 L1798.8,2651.5 L1803.6,2652.6 L1808.5,2653.8 L1813.3,2654.9 L1818.2,2656.1 L1823.1,2657.2 L1827.9,2658.3 L1832.8,2659.4 L1837.6,2660.5 L1842.5,2661.6 L1847.4,2662.7 L1852.2,2663.7 L1857.1,2664.8 L1862.0,2665.9 L1866.8,2666.9 L1871.7,2667.9 L1876.6,2668.9 L1881.5,2670.0 L1886.4,2671.0 L1891.2,2672.0 L1896.1,2672.9 L1901.0,2673.9 L1905.9,2674.9 L1910.8,2675.8 L1915.7,2676.8 L1920.6,2677.7 L1925.5,2678.7 L1930.4,2679.6 L1935.3,2680.5 L1940.2,2681.4 L1945.1,2682.3 L1950.0,2683.2 L1954.9,2684.1 L1959.8,2685.0 L1964.7,2685.8 L1969.6,2686.7 L1974.5,2687.5 L1979.4,2688.4 L1984.3,2689.2 L1989.2,2690.0 L1994.2,2690.9 L1999.1,2691.7 L2004.0,2692.5 L2008.9,2693.3 L2013.8,2694.1 L2018.8,2694.9 L2023.7,2695.6 L2028.6,2696.4 L2033.5,2697.2 L2038.5,2697.9 L2043.4,2698.7 L2048.3,2699.4 L2053.3,2700.2 L2058.2,2700.9 L2063.1,2701.6 L2068.1,2702.3 L2073.0,2703.0 L2078.0,2703.7 L2082.9,2704.4 L2087.8,2705.1 L2092.8,2705.8 L2097.7,2706.5 L2102.7,2707.2 L2107.6,2707.8 L2112.6,2708.5 L2117.5,2709.2 L2122.5,2709.8 L2127.4,2710.5 L2132.4,2711.1 L2137.3,2711.7 L2142.3,2712.4 L2147.2,2713.0 L2152.2,2713.6 L2157.1,2714.2 L2162.1,2714.8 L2167.0,2715.4 L2172.0,2716.0 L2177.0,2716.6 L2181.9,2717.2 L2186.9,2717.8 L2191.8,2718.4 L2196.8,2719.0 L2201.8,2719.5 L2206.7,2720.1 L2211.7,2720.7 L2216.7,2721.2 L2221.6,2721.8 L2226.6,2722.3 L2231.6,2722.9 L2236.5,2723.4 L2241.5,2723.9 L2246.5,2724.5 L2251.4,2725.0 L2256.4,2725.5 L2261.4,2726.0 L2266.3,2726.6 L2271.3,2727.1 L2276.3,2727.6 L2281.3,2728.1 L2286.2,2728.6 L2291.2,2729.1 L2296.2,2729.6 L2301.2,2730.1 L2306.1,2730.6 L2311.1,2731.1 L2316.1,2731.6 L2321.1,2732.1 L2326.0,2732.5" fill="none" stroke="#ff7f0e" stroke-width="9.4" stroke-linejoin="round" stroke-linecap="butt" />
<path d="M379.4,1745.9 L382.6,1749.8 L385.9,1753.5 L389.3,1757.1 L392.8,1760.6 L396.4,1764.0 L400.1,1767.2 L403.9,1770.4 L407.7,1773.4 L411.7,1776.3 L415.7,1779.2 L419.7,1781.9 L423.9,1784.6 L428.0,1787.2 L432.3,1789.8 L436.5,1792.2 L440.8,1794.7 L445.2,1797.1 L449.6,1799.4 L454.0,1801.8 L458.4,1804.1 L462.8,1806.4 L467.2,1808.7 L471.7,1810.9 L476.1,1813.2 L480.6,1815.5 L485.0,1817.8 L489.4,1820.1 L493.9,1822.4 L498.3,1824.7 L502.7,1827.1 L507.1,1829.4 L511.5,1831.8 L515.9,1834.2 L520.3,1836.5 L524.6,1839.0 L529.0,1841.4 L533.3,1843.8 L537.7,1846.3 L542.0,1848.7 L546.3,1851.2 L550.7,1853.7 L555.0,1856.2 L559.2,1858.7 L563.5,1861.3 L567.8,1863.9 L572.0,1866.5 L576.3,1869.1 L580.5,1871.7 L584.7,1874.3 L588.9,1877.0 L593.1,1879.7 L597.3,1882.4 L601.5,1885.1 L605.6,1887.9 L609.8,1890.7 L613.9,1893.5 L618.0,1896.3 L622.1,1899.1 L626.1,1902.0 L630.2,1904.9 L634.2,1907.8 L638.3,1910.8 L642.2,1913.8 L646.2,1916.8 L650.2,1919.8 L654.1,1922.8 L658.0,1925.9 L661.9,1929.0 L665.7,1932.2 L669.6,1935.3 L673.4,1938.5 L677.2,1941.7 L680.9,1945.0 L684.6,1948.3 L688.3,1951.6 L692.0,1954.9 L695.6,1958.3 L699.2,1961.7 L702.8,1965.1 L706.4,1968.6 L710.0,1972.0 L713.5,1975.5 L717.0,1979.0 L720.5,1982.5 L724.0,1986.0 L727.5,1989.6 L731.0,1993.1 L734.5,1996.7 L737.9,2000.3 L741.4,2003.9 L744.8,2007.4 L748.3,2011.0 L751.8,2014.6 L755.2,2018.2 L758.7,2021.8 L762.1,2025.4 L765.6,2029.0 L769.1,2032.6 L772.6,2036.2 L776.1,2039.8 L779.6,2043.4 L783.1,2046.9 L786.7,2050.5 L790.2,2054.1 L793.7,2057.6 L797.3,2061.2 L800.8,2064.8 L804.4,2068.3 L807.9,2071.9 L811.5,2075.4 L815.1,2079.0 L818.7,2082.5 L822.2,2086.1 L825.8,2089.6 L829.4,2093.2 L832.9,2096.7 L836.5,2100.3 L840.1,2103.8 L843.7,2107.4 L847.2,2110.9 L850.8,2114.5 L854.4,2118.0 L857.9,2121.6 L861.5,2125.1 L865.0,2128.7 L868.6,2132.2 L872.1,2135.8 L875.6,2139.4 L879.2,2143.0 L882.7,2146.5 L886.2,2150.1 L889.7,2153.7 L893.2,2157.3 L896.6,2160.9 L900.1,2164.5 L903.5,2168.1 L907.0,2171.7 L910.4,2175.3 L913.8,2179.0 L917.2,2182.6 L920.6,2186.2 L924.0,2189.9 L927.3,2193.6 L930.7,2197.2 L934.0,2200.9 L937.3,2204.6 L940.6,2208.3 L943.9,2211.9 L947.2,2215.6 L950.5,2219.3 L953.8,2223.1 L957.0,2226.8 L960.3,2230.5 L963.5,2234.2 L966.7,2238.0 L969.9,2241.7 L973.2,2245.5 L976.4,2249.2 L979.6,2253.0 L982.8,2256.7 L985.9,2260.5 L989.1,2264.3 L992.3,2268.1 L995.5,2271.9 L998.6,2275.7 L1001.8,2279.5 L1004.9,2283.3 L1008.1,2287.1 L1011.2,2290.9 L1014.4,2294.8 L1017.5,2298.6 L1020.7,2302.4 L1023.8,2306.3 L1026.9,2310.1 L1030.1,2314.0 L1033.2,2317.8 L1036.4,2321.7 L1039.5,2325.6 L1042.6,2329.4 L1045.8,2333.3 L1048.9,2337.2 L1052.1,2341.1 L1055.2,2345.0 L1058.3,2348.9 L1061.5,2352.8 L1064.6,2356.7 L1067.8,2360.6 L1071.0,2364.5 L1074.1,2368.4 L1077.3,2372.3 L1080.5,2376.2 L1083.6,2380.1 L1086.8,2384.0 L1090.0,2387.9 L1093.2,2391.8 L1096.4,2395.8 L1099.6,2399.7 L1102.8,2403.6 L1106.0,2407.5 L1109.2,2411.4 L1112.4,2415.3 L1115.6,2419.2 L1118.9,2423.0 L1122.1,2426.9 L1125.4,2430.8 L1128.6,2434.7 L1131.9,2438.5 L1135.2,2442.4 L1138.4,2446.2 L1141.7,2450.1 L1145.0,2453.9 L1148.3,2457.8 L1151.6,2461.6 L1155.0,2465.4 L1158.3,2469.2 L1161.6,2473.0 L1165.0,2476.7 L1168.4,2480.5 L1171.7,2484.3 L1175.1,2488.0 L1178.5,2491.7 L1181.9,2495.5 L1185.3,2499.2 L1188.8,2502.9 L1192.2,2506.5 L1195.6,2510.2 L1199.1,2513.8 L1202.6,2517.5 L1206.1,2521.1 L1209.6,2524.7 L1213.1,2528.3 L1216.6,2531.8 L1220.2,2535.4 L1223.7,2538.9 L1227.3,2542.4 L1230.9,2545.9 L1234.5,2549.4 L1238.1,2552.8 L1241.7,2556.3 L1245.4,2559.7 L1249.0,2563.1 L1252.7,2566.4 L1256.4,2569.8 L1260.1,2573.1 L1263.8,2576.4 L1267.6,2579.7 L1271.3,2582.9 L1275.1,2586.2 L1278.9,2589.4 L1282.7,2592.6 L1286.5,2595.7 L1290.4,2598.8 L1294.2,2601.9 L1298.1,2605.0 L1302.0,2608.0 L1305.9,2611.1 L1309.9,2614.1 L1313.8,2617.0 L1317.8,2619.9 L1321.8,2622.8 L1325.8,2625.7 L1329.9,2628.6 L1333.9,2631.4 L1338.0,2634.1 L1342.1,2636.9 L1346.2,2639.6 L1350.4,2642.3 L1354.5,2644.9 L1358.7,2647.6 L1362.9,2650.1 L1367.1,2652.7 L1371.4,2655.2 L1375.6,2657.7 L1379.9,2660.2 L1384.2,2662.6 L1388.5,2665.0 L1392.9,2667.4 L1397.2,2669.7 L1401.6,2672.0 L1406.0,2674.3 L1410.4,2676.6 L1414.8,2678.8 L1419.3,2681.0 L1423.7,2683.2 L1428.2,2685.3 L1432.7,2687.5 L1437.2,2689.6 L1441.7,2691.6 L1446.2,2693.7 L1450.8,2695.7 L1455.3,2697.7 L1459.9,2699.6 L1464.5,2701.6 L1469.1,2703.5 L1473.7,2705.4 L1478.4,2707.2 L1483.0,2709.0 L1487.7,2710.9 L1492.3,2712.6 L1497.0,2714.4 L1501.7,2716.1 L1506.4,2717.9 L1511.1,2719.6 L1515.8,2721.2 L1520.6,2722.9 L1525.3,2724.5 L1530.1,2726.1 L1534.8,2727.7 L1539.6,2729.2 L1544.4,2730.8 L1549.2,2732.3 L1554.0,2733.8 L1558.8,2735.3 L1563.6,2736.7 L1568.4,2738.2 L1573.2,2739.6 L1578.1,2741.0 L1582.9,2742.4 L1587.8,2743.7 L1592.6,2745.1 L1597.5,2746.4 L1602.4,2747.7 L1607.2,2749.0 L1612.1,2750.2 L1617.0,2751.5 L1621.9,2752.7 L1626.8,2753.9 L1631.7,2755.1 L1636.6,2756.3 L1641.5,2757.5 L1646.4,2758.6 L1651.3,2759.7 L1656.2,2760.9 L1661.2,2762.0 L1666.1,2763.0 L1671.0,2764.1 L1675.9,2765.2 L1680.8,2766.2 L1685.8,2767.2 L1690.7,2768.3 L1695.6,2769.3 L1700.6,2770.3 L1705.5,2771.2 L1710.4,2772.2 L1715.3,2773.1 L1720.3,2774.1 L1725.2,2775.0 L1730.1,2775.9 L1735.1,2776.8 L1740.0,2777.7 L1744.9,2778.6 L1749.8,2779.4 L1754.8,2780.3 L1759.7,2781.1 L1764.6,2782.0 L1769.6,2782.8 L1774.5,2783.6 L1779.4,2784.4 L1784.4,2785.2 L1789.3,2785.9 L1794.2,2786.7 L1799.2,2787.4 L1804.1,2788.2 L1809.0,2788.9 L1814.0,2789.6 L1818.9,2790.4 L1823.8,2791.1 L1828.8,2791.7 L1833.7,2792.4 L1838.6,2793.1 L1843.6,2793.8 L1848.5,2794.4 L1853.4,2795.1 L1858.4,2795.7 L1863.3,2796.3 L1868.2,2796.9 L1873.2,2797.6 L1878.1,2798.2 L1883.1,2798.7 L1888.0,2799.3 L1892.9,2799.9 L1897.9,2800.5 L1902.8,2801.0 L1907.8,2801.6 L1912.7,2802.1 L1917.6,2802.7 L1922.6,2803.2 L1927.5,2803.7 L1932.5,2804.3 L1937.4,2804.8 L1942.4,2805.3 L1947.3,2805.8 L1952.3,2806.3 L1957.2,2806.8 L1962.2,2807.2 L1967.1,2807.7 L1972.1,2808.2 L1977.0,2808.6 L1982.0,2809.1 L1986.9,2809.5 L1991.9,2810.0 L1996.8,2810.4 L2001.8,2810.9 L2006.7,2811.3 L2011.7,2811.7 L2016.7,2812.1 L2021.6,2812.6 L2026.6,2813.0 L2031.5,2813.4 L2036.5,2813.8 L2041.5,2814.2 L2046.4,2814.6 L2051.4,2815.0 L2056.4,2815.4 L2061.3,2815.7 L2066.3,2816.1 L2071.3,2816.5 L2076.2,2816.9 L2081.2,2817.3 L2086.2,2817.6 L2091.1,2818.0 L2096.1,2818.4 L2101.1,2818.7 L2106.1,2819.1 L2111.0,2819.4 L2116.0,2819.8 L2121.0,2820.2 L2126.0,2820.5 L2131.0,2820.9 L2136.0,2821.2 L2140.9,2821.6 L2145.9,2821.9 L2150.9,2822.2 L2155.9,2822.6 L2160.9,2822.9 L2165.9,2823.3 L2170.9,2823.6 L2175.9,2824.0 L2180.9,2824.3 L2185.9,2824.7 L2190.9,2825.0 L2195.9,2825.3 L2200.9,2825.7 L2205.9,2826.0 L2210.9,2826.4 L2215.9,2826.7 L2220.9,2827.1 L2225.9,2827.4 L2230.9,2827.8 L2235.9,2828.1 L2240.9,2828.5 L2245.9,2828.8 L2250.9,2829.2 L2255.9,2829.5 L2261.0,2829.9 L2266.0,2830.2 L2271.0,2830.6 L2276.0,2831.0 L2281.1,2831.3 L2286.1,2831.7 L2291.1,2832.1 L2296.1,2832.5 L2301.2,2832.8 L2306.2,2833.2 L2311.2,2833.6 L2316.3,2834.0 L2321.3,2834.4 L2326.3,2834.8" fill="none" stroke="#2ca02c" stroke-width="9.4" stroke-linejoin="round" stroke-linecap="butt" />
<path d="M378.3,1741.4 L381.8,1745.3 L385.3,1749.1 L388.7,1752.9 L392.1,1756.8 L395.5,1760.7 L398.9,1764.6 L402.2,1768.5 L405.5,1772.4 L408.8,1776.3 L412.0,1780.3 L415.2,1784.2 L418.4,1788.2 L421.5,1792.2 L424.6,1796.2 L427.7,1800.2 L430.8,1804.2 L433.8,1808.3 L436.8,1812.3 L439.8,1816.4 L442.7,1820.5 L445.7,1824.6 L448.6,1828.7 L451.4,1832.8 L454.3,1836.9 L457.1,1841.0 L459.9,1845.2 L462.6,1849.4 L465.4,1853.5 L468.1,1857.7 L470.8,1861.9 L473.4,1866.1 L476.1,1870.4 L478.7,1874.6 L481.3,1878.8 L483.8,1883.1 L486.4,1887.4 L488.9,1891.6 L491.4,1895.9 L493.9,1900.2 L496.3,1904.5 L498.8,1908.9 L501.2,1913.2 L503.6,1917.5 L506.0,1921.9 L508.3,1926.3 L510.6,1930.6 L512.9,1935.0 L515.2,1939.4 L517.5,1943.8 L519.7,1948.2 L522.0,1952.6 L524.2,1957.0 L526.4,1961.5 L528.6,1965.9 L530.7,1970.4 L532.8,1974.8 L535.0,1979.3 L537.1,1983.8 L539.2,1988.3 L541.2,1992.8 L543.3,1997.3 L545.3,2001.8 L547.4,2006.3 L549.4,2010.8 L551.4,2015.3 L553.3,2019.9 L555.3,2024.4 L557.2,2029.0 L559.2,2033.5 L561.1,2038.1 L563.0,2042.7 L564.9,2047.3 L566.8,2051.9 L568.6,2056.5 L570.5,2061.1 L572.3,2065.7 L574.2,2070.3 L576.0,2074.9 L577.8,2079.5 L579.6,2084.2 L581.4,2088.8 L583.1,2093.4 L584.9,2098.1 L586.7,2102.7 L588.4,2107.4 L590.1,2112.1 L591.9,2116.7 L593.6,2121.4 L595.3,2126.1 L597.0,2130.8 L598.7,2135.4 L600.4,2140.1 L602.0,2144.8 L603.7,2149.5 L605.4,2154.2 L607.0,2158.9 L608.7,2163.6 L610.3,2168.4 L612.0,2173.1 L613.6,2177.8 L615.2,2182.5 L616.8,2187.2 L618.4,2192.0 L620.1,2196.7 L621.7,2201.4 L623.3,2206.2 L624.9,2210.9 L626.5,2215.7 L628.1,2220.4 L629.6,2225.2 L631.2,2229.9 L632.8,2234.7 L634.4,2239.4 L636.0,2244.2 L637.5,2248.9 L639.1,2253.7 L640.7,2258.4 L642.3,2263.2 L643.8,2268.0 L645.4,2272.7 L647.0,2277.5 L648.6,2282.3 L650.1,2287.0 L651.7,2291.8 L653.3,2296.6 L654.9,2301.3 L656.4,2306.1 L658.0,2310.9 L659.6,2315.6 L661.2,2320.4 L662.8,2325.2 L664.4,2329.9 L666.0,2334.7 L667.6,2339.5 L669.2,2344.2 L670.8,2349.0 L672.4,2353.8 L674.0,2358.5 L675.6,2363.3 L677.2,2368.0 L678.9,2372.8 L680.5,2377.6 L682.2,2382.3 L683.8,2387.1 L685.5,2391.8 L687.1,2396.6 L688.8,2401.3 L690.5,2406.1 L692.2,2410.8 L693.8,2415.5 L695.5,2420.3 L697.3,2425.0 L699.0,2429.7 L700.7,2434.5 L702.4,2439.2 L704.2,2443.9 L705.9,2448.6 L707.7,2453.4 L709.5,2458.1 L711.3,2462.8 L713.1,2467.5 L714.9,2472.2 L716.7,2476.9 L718.5,2481.6 L720.4,2486.3 L722.2,2491.0 L724.1,2495.6 L726.0,2500.3 L727.9,2505.0 L729.8,2509.6 L731.7,2514.3 L733.6,2519.0 L735.6,2523.6 L737.5,2528.3 L739.5,2532.9 L741.5,2537.5 L743.5,2542.2 L745.5,2546.8 L747.6,2551.4 L749.6,2556.0 L751.7,2560.6 L753.8,2565.2 L755.9,2569.8 L758.1,2574.3 L760.2,2578.9 L762.4,2583.4 L764.6,2587.9 L766.8,2592.5 L769.1,2597.0 L771.3,2601.4 L773.6,2605.9 L776.0,2610.4 L778.3,2614.8 L780.7,2619.2 L783.1,2623.6 L785.5,2627.9 L788.0,2632.3 L790.5,2636.6 L793.0,2640.9 L795.6,2645.2 L798.1,2649.4 L800.8,2653.7 L803.4,2657.9 L806.1,2662.0 L808.8,2666.2 L811.6,2670.3 L814.4,2674.4 L817.2,2678.4 L820.1,2682.4 L823.0,2686.4 L825.9,2690.4 L828.9,2694.3 L832.0,2698.2 L835.0,2702.0 L838.1,2705.8 L841.3,2709.6 L844.5,2713.4 L847.7,2717.1 L851.0,2720.7 L854.4,2724.3 L857.7,2727.9 L861.1,2731.5 L864.6,2735.0 L868.1,2738.5 L871.6,2741.9 L875.1,2745.3 L878.7,2748.7 L882.4,2752.0 L886.0,2755.3 L889.7,2758.5 L893.5,2761.7 L897.3,2764.9 L901.1,2768.0 L904.9,2771.1 L908.8,2774.2 L912.7,2777.2 L916.6,2780.2 L920.6,2783.1 L924.6,2786.1 L928.6,2788.9 L932.7,2791.8 L936.7,2794.6 L940.9,2797.3 L945.0,2800.0 L949.2,2802.7 L953.4,2805.3 L957.6,2807.9 L961.8,2810.5 L966.1,2813.0 L970.4,2815.5 L974.7,2818.0 L979.0,2820.4 L983.4,2822.8 L987.8,2825.1 L992.2,2827.4 L996.6,2829.7 L1001.0,2831.9 L1005.5,2834.1 L1010.0,2836.2 L1014.5,2838.3 L1019.0,2840.4 L1023.5,2842.4 L1028.1,2844.4 L1032.6,2846.4 L1037.2,2848.3 L1041.8,2850.2 L1046.4,2852.0 L1051.0,2853.8 L1055.7,2855.6 L1060.3,2857.3 L1065.0,2859.0 L1069.6,2860.6 L1074.3,2862.3 L1079.0,2863.9 L1083.7,2865.4 L1088.4,2866.9 L1093.2,2868.4 L1097.9,2869.9 L1102.7,2871.3 L1107.5,2872.7 L1112.2,2874.0 L1117.0,2875.4 L1121.8,2876.6 L1126.6,2877.9 L1131.5,2879.2 L1136.3,2880.4 L1141.1,2881.5 L1146.0,2882.7 L1150.8,2883.8 L1155.7,2884.9 L1160.6,2886.0 L1165.5,2887.1 L1170.3,2888.1 L1175.2,2889.1 L1180.2,2890.1 L1185.1,2891.0 L1190.0,2891.9 L1194.9,2892.9 L1199.9,2893.7 L1204.8,2894.6 L1209.8,2895.5 L1214.7,2896.3 L1219.7,2897.1 L1224.7,2897.9 L1229.6,2898.7 L1234.6,2899.4 L1239.6,2900.2 L1244.6,2900.9 L1249.6,2901.6 L1254.6,2902.3 L1259.6,2902.9 L1264.6,2903.6 L1269.6,2904.2 L1274.6,2904.9 L1279.7,2905.5 L1284.7,2906.1 L1289.7,2906.7 L1294.8,2907.3 L1299.8,2907.8 L1304.8,2908.4 L1309.9,2908.9 L1314.9,2909.5 L1319.9,2910.0 L1325.0,2910.5 L1330.0,2911.1 L1335.1,2911.6 L1340.1,2912.1 L1345.2,2912.6 L1350.2,2913.0 L1355.3,2913.5 L1360.3,2914.0 L1365.4,2914.5 L1370.5,2915.0 L1375.5,2915.4 L1380.6,2915.9 L1385.6,2916.4 L1390.7,2916.8 L1395.7,2917.3 L1400.8,2917.8 L1405.8,2918.2 L1410.8,2918.7 L1415.9,2919.2 L1420.9,2919.6 L1426.0,2920.1 L1431.0,2920.6 L1436.0,2921.0 L1441.1,2921.5 L1446.1,2922.0 L1451.1,2922.5 L1456.1,2923.0 L1461.1,2923.5 L1466.2,2924.0 L1471.2,2924.5 L1476.2,2924.9 L1481.2,2925.4 L1486.2,2925.9 L1491.2,2926.5 L1496.2,2927.0 L1501.2,2927.5 L1506.2,2928.0 L1511.2,2928.5 L1516.2,2929.0 L1521.2,2929.5 L1526.2,2930.0 L1531.2,2930.6 L1536.1,2931.1 L1541.1,2931.6 L1546.1,2932.1 L1551.1,2932.7 L1556.1,2933.2 L1561.0,2933.7 L1566.0,2934.3 L1571.0,2934.8 L1576.0,2935.3 L1580.9,2935.9 L1585.9,2936.4 L1590.9,2937.0 L1595.8,2937.5 L1600.8,2938.0 L1605.7,2938.6 L1610.7,2939.1 L1615.7,2939.7 L1620.6,2940.2 L1625.6,2940.8 L1630.5,2941.3 L1635.5,2941.9 L1640.4,2942.4 L1645.4,2943.0 L1650.3,2943.5 L1655.3,2944.1 L1660.2,2944.6 L1665.2,2945.2 L1670.1,2945.7 L1675.1,2946.3 L1680.0,2946.8 L1684.9,2947.4 L1689.9,2947.9 L1694.8,2948.5 L1699.8,2949.0 L1704.7,2949.6 L1709.6,2950.1 L1714.6,2950.7 L1719.5,2951.3 L1724.4,2951.8 L1729.4,2952.4 L1734.3,2952.9 L1739.2,2953.5 L1744.2,2954.0 L1749.1,2954.6 L1754.0,2955.1 L1759.0,2955.7 L1763.9,2956.2 L1768.8,2956.8 L1773.8,2957.3 L1778.7,2957.9 L1783.6,2958.4 L1788.5,2959.0 L1793.5,2959.5 L1798.4,2960.1 L1803.3,2960.6 L1808.3,2961.1 L1813.2,2961.7 L1818.1,2962.2 L1823.0,2962.8 L1828.0,2963.3 L1832.9,2963.8 L1837.8,2964.4 L1842.8,2964.9 L1847.7,2965.4 L1852.6,2966.0 L1857.5,2966.5 L1862.5,2967.0 L1867.4,2967.5 L1872.3,2968.1 L1877.3,2968.6 L1882.2,2969.1 L1887.1,2969.6 L1892.1,2970.1 L1897.0,2970.6 L1901.9,2971.1 L1906.9,2971.7 L1911.8,2972.2 L1916.7,2972.7 L1921.7,2973.2 L1926.6,2973.7 L1931.5,2974.2 L1936.5,2974.7 L1941.4,2975.1 L1946.4,2975.6 L1951.3,2976.1 L1956.2,2976.6 L1961.2,2977.1 L1966.1,2977.6 L1971.1,2978.0 L1976.0,2978.5 L1981.0,2979.0 L1985.9,2979.4 L1990.9,2979.9 L1995.8,2980.4 L2000.8,2980.8 L2005.7,2981.3 L2010.7,2981.7 L2015.6,2982.2 L2020.6,2982.6 L2025.6,2983.0 L2030.5,2983.5 L2035.5,2983.9 L2040.4,2984.3 L2045.4,2984.8 L2050.4,2985.2 L2055.3,2985.6 L2060.3,2986.0 L2065.3,2986.4 L2070.3,2986.8 L2075.2,2987.2 L2080.2,2987.6 L2085.2,2988.0 L2090.2,2988.4 L2095.2,2988.8 L2100.1,2989.2 L2105.1,2989.5 L2110.1,2989.9 L2115.1,2990.3 L2120.1,2990.6 L2125.1,2991.0 L2130.1,2991.4 L2135.1,2991.7 L2140.1,2992.0 L2145.1,2992.4 L2150.1,2992.7 L2155.1,2993.0 L2160.1,2993.4 L2165.2,2993.7 L2170.2,2994.0 L2175.2,2994.3 L2180.2,2994.6 L2185.2,2994.9 L2190.3,2995.2 L2195.3,2995.5 L2200.3,2995.8 L2205.4,2996.1 L2210.4,2996.3 L2215.4,2996.6 L2220.5,2996.8 L2225.5,2997.1 L2230.6,2997.4 L2235.6,2997.6 L2240.7,2997.8 L2245.7,2998.1 L2250.8,2998.3 L2255.9,2998.5 L2260.9,2998.7 L2266.0,2998.9 L2271.1,2999.1 L2276.1,2999.3 L2281.2,2999.5 L2286.3,2999.7 L2291.4,2999.9 L2296.5,3000.0 L2301.6,3000.2 L2306.7,3000.4 L2311.8,3000.5 L2316.9,3000.6 L2322.0,3000.8 L2327.1,3000.9" fill="none" stroke="#d62728" stroke-width="9.4" stroke-linejoin="round" stroke-linecap="butt" />
<path d="M377.9,1750.6 L381.3,1754.0 L384.7,1757.5 L388.0,1761.0 L391.3,1764.6 L394.5,1768.2 L397.7,1771.9 L400.9,1775.6 L404.0,1779.3 L407.0,1783.1 L410.1,1786.9 L413.1,1790.8 L416.0,1794.7 L419.0,1798.7 L421.8,1802.6 L424.7,1806.7 L427.5,1810.7 L430.2,1814.8 L433.0,1818.9 L435.7,1823.0 L438.3,1827.2 L441.0,1831.4 L443.6,1835.7 L446.1,1839.9 L448.6,1844.2 L451.1,1848.5 L453.6,1852.9 L456.0,1857.3 L458.4,1861.7 L460.8,1866.1 L463.1,1870.5 L465.4,1875.0 L467.7,1879.4 L470.0,1883.9 L472.2,1888.4 L474.4,1893.0 L476.6,1897.5 L478.7,1902.1 L480.8,1906.7 L482.9,1911.2 L485.0,1915.8 L487.0,1920.5 L489.1,1925.1 L491.1,1929.7 L493.0,1934.3 L495.0,1939.0 L496.9,1943.7 L498.8,1948.3 L500.7,1953.0 L502.6,1957.7 L504.4,1962.3 L506.2,1967.0 L508.0,1971.7 L509.8,1976.4 L511.6,1981.0 L513.4,1985.7 L515.1,1990.4 L516.8,1995.1 L518.5,1999.8 L520.2,2004.5 L521.8,2009.2 L523.5,2013.9 L525.1,2018.6 L526.7,2023.3 L528.3,2028.0 L529.9,2032.7 L531.5,2037.4 L533.0,2042.1 L534.6,2046.9 L536.1,2051.6 L537.6,2056.3 L539.1,2061.0 L540.5,2065.7 L542.0,2070.5 L543.5,2075.2 L544.9,2079.9 L546.3,2084.7 L547.7,2089.4 L549.1,2094.2 L550.5,2098.9 L551.9,2103.7 L553.2,2108.4 L554.6,2113.2 L555.9,2117.9 L557.2,2122.7 L558.6,2127.4 L559.9,2132.2 L561.1,2137.0 L562.4,2141.7 L563.7,2146.5 L565.0,2151.3 L566.2,2156.1 L567.5,2160.8 L568.7,2165.6 L569.9,2170.4 L571.1,2175.2 L572.3,2180.0 L573.5,2184.8 L574.7,2189.6 L575.9,2194.4 L577.1,2199.2 L578.3,2204.0 L579.4,2208.8 L580.6,2213.6 L581.7,2218.4 L582.9,2223.2 L584.0,2228.1 L585.1,2232.9 L586.3,2237.7 L587.4,2242.5 L588.5,2247.4 L589.6,2252.2 L590.7,2257.0 L591.8,2261.9 L592.9,2266.7 L594.0,2271.6 L595.1,2276.4 L596.2,2281.3 L597.3,2286.1 L598.4,2291.0 L599.5,2295.8 L600.5,2300.7 L601.6,2305.6 L602.7,2310.4 L603.8,2315.3 L604.8,2320.2 L605.9,2325.1 L607.0,2330.0 L608.1,2334.8 L609.1,2339.7 L610.2,2344.6 L611.3,2349.5 L612.3,2354.4 L613.4,2359.3 L614.5,2364.2 L615.6,2369.1 L616.6,2374.0 L617.7,2379.0 L618.8,2383.9 L619.9,2388.8 L621.0,2393.7 L622.0,2398.7 L623.1,2403.6 L624.2,2408.5 L625.3,2413.5 L626.4,2418.4 L627.5,2423.3 L628.6,2428.3 L629.7,2433.2 L630.9,2438.2 L632.0,2443.2 L633.1,2448.1 L634.2,2453.1 L635.4,2458.1 L636.5,2463.0 L637.7,2468.0 L638.8,2473.0 L640.0,2478.0 L641.2,2482.9 L642.3,2487.9 L643.5,2492.9 L644.7,2497.9 L645.9,2502.9 L647.1,2507.9 L648.4,2512.9 L649.6,2517.9 L650.8,2522.9 L652.1,2527.9 L653.4,2532.9 L654.7,2537.9 L656.0,2542.9 L657.3,2547.9 L658.7,2552.8 L660.1,2557.8 L661.5,2562.7 L663.0,2567.6 L664.5,2572.5 L666.0,2577.4 L667.5,2582.3 L669.1,2587.1 L670.8,2591.9 L672.5,2596.7 L674.2,2601.4 L676.0,2606.2 L677.8,2610.9 L679.7,2615.5 L681.6,2620.1 L683.6,2624.7 L685.6,2629.3 L687.7,2633.8 L689.8,2638.3 L692.0,2642.7 L694.3,2647.1 L696.7,2651.4 L699.1,2655.7 L701.5,2659.9 L704.1,2664.1 L706.7,2668.3 L709.3,2672.3 L712.1,2676.3 L714.9,2680.3 L717.8,2684.2 L720.7,2688.0 L723.7,2691.7 L726.8,2695.4 L730.0,2698.9 L733.2,2702.4 L736.5,2705.8 L739.9,2709.2 L743.4,2712.4 L746.9,2715.6 L750.5,2718.6 L754.1,2721.6 L757.9,2724.4 L761.7,2727.2 L765.5,2729.8 L769.5,2732.4 L773.5,2734.9 L777.6,2737.3 L781.7,2739.6 L785.9,2741.9 L790.1,2744.0 L794.4,2746.1 L798.8,2748.1 L803.2,2750.0 L807.6,2751.9 L812.1,2753.7 L816.7,2755.5 L821.3,2757.1 L825.9,2758.7 L830.6,2760.3 L835.3,2761.8 L840.0,2763.3 L844.7,2764.7 L849.5,2766.0 L854.4,2767.3 L859.2,2768.6 L864.1,2769.8 L869.0,2771.0 L873.9,2772.2 L878.8,2773.3 L883.8,2774.4 L888.7,2775.5 L893.7,2776.5 L898.7,2777.6 L903.6,2778.6 L908.6,2779.5 L913.6,2780.5 L918.6,2781.5 L923.6,2782.4 L928.6,2783.3 L933.6,2784.3 L938.6,2785.2 L943.6,2786.1 L948.6,2787.0 L953.6,2787.9 L958.6,2788.7 L963.6,2789.6 L968.5,2790.5 L973.5,2791.3 L978.5,2792.1 L983.5,2793.0 L988.5,2793.8 L993.5,2794.6 L998.5,2795.4 L1003.4,2796.2 L1008.4,2797.0 L1013.4,2797.8 L1018.4,2798.5 L1023.4,2799.3 L1028.3,2800.0 L1033.3,2800.8 L1038.3,2801.5 L1043.3,2802.2 L1048.2,2803.0 L1053.2,2803.7 L1058.2,2804.4 L1063.2,2805.1 L1068.1,2805.7 L1073.1,2806.4 L1078.1,2807.1 L1083.1,2807.8 L1088.0,2808.4 L1093.0,2809.1 L1098.0,2809.7 L1102.9,2810.4 L1107.9,2811.0 L1112.9,2811.6 L1117.8,2812.2 L1122.8,2812.8 L1127.8,2813.4 L1132.8,2814.0 L1137.7,2814.6 L1142.7,2815.2 L1147.6,2815.8 L1152.6,2816.4 L1157.6,2816.9 L1162.5,2817.5 L1167.5,2818.1 L1172.5,2818.6 L1177.4,2819.2 L1182.4,2819.7 L1187.4,2820.3 L1192.3,2820.8 L1197.3,2821.3 L1202.2,2821.8 L1207.2,2822.4 L1212.2,2822.9 L1217.1,2823.4 L1222.1,2823.9 L1227.0,2824.4 L1232.0,2824.9 L1237.0,2825.4 L1241.9,2825.9 L1246.9,2826.3 L1251.8,2826.8 L1256.8,2827.3 L1261.8,2827.8 L1266.7,2828.2 L1271.7,2828.7 L1276.6,2829.2 L1281.6,2829.6 L1286.6,2830.1 L1291.5,2830.5 L1296.5,2831.0 L1301.4,2831.4 L1306.4,2831.9 L1311.3,2832.3 L1316.3,2832.8 L1321.3,2833.2 L1326.2,2833.6 L1331.2,2834.1 L1336.1,2834.5 L1341.1,2834.9 L1346.0,2835.4 L1351.0,2835.8 L1355.9,2836.2 L1360.9,2836.6 L1365.9,2837.0 L1370.8,2837.5 L1375.8,2837.9 L1380.7,2838.3 L1385.7,2838.7 L1390.6,2839.1 L1395.6,2839.5 L1400.6,2839.9 L1405.5,2840.4 L1410.5,2840.8 L1415.4,2841.2 L1420.4,2841.6 L1425.3,2842.0 L1430.3,2842.4 L1435.3,2842.8 L1440.2,2843.2 L1445.2,2843.6 L1450.1,2844.1 L1455.1,2844.5 L1460.1,2844.9 L1465.0,2845.3 L1470.0,2845.7 L1474.9,2846.1 L1479.9,2846.5 L1484.9,2846.9 L1489.8,2847.3 L1494.8,2847.8 L1499.7,2848.2 L1504.7,2848.6 L1509.7,2849.0 L1514.6,2849.4 L1519.6,2849.9 L1524.6,2850.3 L1529.5,2850.7 L1534.5,2851.1 L1539.4,2851.6 L1544.4,2852.0 L1549.4,2852.4 L1554.3,2852.9 L1559.3,2853.3 L1564.3,2853.8 L1569.2,2854.2 L1574.2,2854.6 L1579.2,2855.1 L1584.1,2855.5 L1589.1,2856.0 L1594.1,2856.5 L1599.0,2856.9 L1604.0,2857.4 L1609.0,2857.8 L1613.9,2858.3 L1618.9,2858.7 L1623.9,2859.2 L1628.9,2859.7 L1633.8,2860.1 L1638.8,2860.6 L1643.8,2861.1 L1648.7,2861.6 L1653.7,2862.0 L1658.7,2862.5 L1663.7,2863.0 L1668.6,2863.5 L1673.6,2863.9 L1678.6,2864.4 L1683.6,2864.9 L1688.5,2865.4 L1693.5,2865.9 L1698.5,2866.3 L1703.5,2866.8 L1708.4,2867.3 L1713.4,2867.8 L1718.4,2868.3 L1723.4,2868.8 L1728.3,2869.2 L1733.3,2869.7 L1738.3,2870.2 L1743.3,2870.7 L1748.3,2871.2 L1753.2,2871.7 L1758.2,2872.2 L1763.2,2872.7 L1768.2,2873.2 L1773.1,2873.6 L1778.1,2874.1 L1783.1,2874.6 L1788.1,2875.1 L1793.1,2875.6 L1798.0,2876.1 L1803.0,2876.6 L1808.0,2877.1 L1813.0,2877.6 L1818.0,2878.0 L1822.9,2878.5 L1827.9,2879.0 L1832.9,2879.5 L1837.9,2880.0 L1842.9,2880.5 L1847.8,2881.0 L1852.8,2881.4 L1857.8,2881.9 L1862.8,2882.4 L1867.8,2882.9 L1872.8,2883.4 L1877.7,2883.8 L1882.7,2884.3 L1887.7,2884.8 L1892.7,2885.3 L1897.7,2885.8 L1902.6,2886.2 L1907.6,2886.7 L1912.6,2887.2 L1917.6,2887.6 L1922.6,2888.1 L1927.6,2888.6 L1932.5,2889.0 L1937.5,2889.5 L1942.5,2890.0 L1947.5,2890.4 L1952.5,2890.9 L1957.5,2891.3 L1962.4,2891.8 L1967.4,2892.2 L1972.4,2892.7 L1977.4,2893.1 L1982.4,2893.6 L1987.4,2894.0 L1992.3,2894.5 L1997.3,2894.9 L2002.3,2895.4 L2007.3,2895.8 L2012.3,2896.2 L2017.2,2896.7 L2022.2,2897.1 L2027.2,2897.5 L2032.2,2897.9 L2037.2,2898.3 L2042.2,2898.8 L2047.1,2899.2 L2052.1,2899.6 L2057.1,2900.0 L2062.1,2900.4 L2067.1,2900.8 L2072.1,2901.2 L2077.0,2901.6 L2082.0,2902.0 L2087.0,2902.4 L2092.0,2902.8 L2097.0,2903.2 L2101.9,2903.5 L2106.9,2903.9 L2111.9,2904.3 L2116.9,2904.7 L2121.9,2905.0 L2126.8,2905.4 L2131.8,2905.8 L2136.8,2906.1 L2141.8,2906.5 L2146.8,2906.8 L2151.7,2907.2 L2156.7,2907.5 L2161.7,2907.8 L2166.7,2908.2 L2171.7,2908.5 L2176.6,2908.8 L2181.6,2909.2 L2186.6,2909.5 L2191.6,2909.8 L2196.6,2910.1 L2201.5,2910.4 L2206.5,2910.7 L2211.5,2911.0 L2216.5,2911.3 L2221.4,2911.6 L2226.4,2911.8 L2231.4,2912.1 L2236.4,2912.4 L2241.3,2912.7 L2246.3,2912.9 L2251.3,2913.2 L2256.3,2913.4 L2261.2,2913.7 L2266.2,2913.9 L2271.2,2914.2 L2276.2,2914.4 L2281.1,2914.6 L2286.1,2914.8 L2291.1,2915.1 L2296.1,2915.3 L2301.0,2915.5 L2306.0,2915.7 L2311.0,2915.9 L2315.9,2916.1 L2320.9,2916.3 L2325.9,2916.4" fill="none" stroke="#9467bd" stroke-width="9.4" stroke-linejoin="round" stroke-linecap="butt" />
<path d="M380.4,1757.3 L383.3,1761.4 L386.1,1765.6 L388.8,1769.8 L391.6,1774.0 L394.3,1778.2 L396.9,1782.4 L399.5,1786.7 L402.1,1791.0 L404.6,1795.3 L407.1,1799.6 L409.5,1804.0 L411.9,1808.3 L414.3,1812.7 L416.7,1817.1 L419.0,1821.6 L421.2,1826.0 L423.4,1830.5 L425.6,1834.9 L427.8,1839.4 L429.9,1843.9 L432.0,1848.5 L434.1,1853.0 L436.1,1857.6 L438.1,1862.1 L440.1,1866.7 L442.0,1871.3 L443.9,1875.9 L445.8,1880.6 L447.7,1885.2 L449.5,1889.8 L451.3,1894.5 L453.1,1899.2 L454.8,1903.9 L456.5,1908.6 L458.2,1913.3 L459.9,1918.0 L461.6,1922.7 L463.2,1927.4 L464.8,1932.2 L466.4,1936.9 L467.9,1941.7 L469.5,1946.4 L471.0,1951.2 L472.5,1956.0 L474.0,1960.7 L475.4,1965.5 L476.9,1970.3 L478.3,1975.1 L479.7,1979.9 L481.1,1984.7 L482.5,1989.5 L483.9,1994.3 L485.2,1999.2 L486.6,2004.0 L487.9,2008.8 L489.2,2013.6 L490.5,2018.4 L491.8,2023.3 L493.1,2028.1 L494.3,2032.9 L495.6,2037.7 L496.8,2042.6 L498.0,2047.4 L499.3,2052.2 L500.5,2057.1 L501.7,2061.9 L502.8,2066.7 L504.0,2071.6 L505.1,2076.4 L506.3,2081.3 L507.4,2086.1 L508.5,2091.0 L509.7,2095.8 L510.8,2100.7 L511.8,2105.5 L512.9,2110.4 L514.0,2115.2 L515.0,2120.1 L516.1,2125.0 L517.1,2129.8 L518.2,2134.7 L519.2,2139.6 L520.2,2144.4 L521.2,2149.3 L522.2,2154.2 L523.1,2159.1 L524.1,2163.9 L525.1,2168.8 L526.0,2173.7 L527.0,2178.6 L527.9,2183.5 L528.8,2188.3 L529.7,2193.2 L530.6,2198.1 L531.5,2203.0 L532.4,2207.9 L533.3,2212.8 L534.2,2217.7 L535.0,2222.6 L535.9,2227.5 L536.7,2232.4 L537.6,2237.3 L538.4,2242.2 L539.2,2247.2 L540.1,2252.1 L540.9,2257.0 L541.7,2261.9 L542.5,2266.8 L543.3,2271.7 L544.0,2276.7 L544.8,2281.6 L545.6,2286.5 L546.3,2291.5 L547.1,2296.4 L547.9,2301.3 L548.6,2306.3 L549.3,2311.2 L550.1,2316.2 L550.8,2321.1 L551.5,2326.0 L552.2,2331.0 L553.0,2335.9 L553.7,2340.9 L554.4,2345.9 L555.1,2350.8 L555.7,2355.8 L556.4,2360.7 L557.1,2365.7 L557.8,2370.7 L558.5,2375.6 L559.1,2380.6 L559.8,2385.6 L560.5,2390.6 L561.1,2395.5 L561.8,2400.5 L562.4,2405.5 L563.1,2410.5 L563.7,2415.5 L564.4,2420.4 L565.1,2425.4 L565.7,2430.4 L566.4,2435.4 L567.1,2440.4 L567.7,2445.4 L568.4,2450.4 L569.1,2455.4 L569.8,2460.3 L570.5,2465.3 L571.2,2470.3 L572.0,2475.3 L572.7,2480.3 L573.4,2485.3 L574.2,2490.3 L575.0,2495.2 L575.8,2500.2 L576.6,2505.2 L577.4,2510.2 L578.2,2515.2 L579.1,2520.1 L580.0,2525.1 L580.8,2530.1 L581.8,2535.0 L582.7,2540.0 L583.6,2544.9 L584.6,2549.9 L585.6,2554.9 L586.6,2559.8 L587.7,2564.7 L588.7,2569.7 L589.8,2574.6 L591.0,2579.6 L592.1,2584.5 L593.3,2589.4 L594.5,2594.3 L595.7,2599.2 L597.0,2604.2 L598.3,2609.1 L599.6,2614.0 L601.0,2618.9 L602.4,2623.7 L603.8,2628.6 L605.3,2633.5 L606.8,2638.4 L608.4,2643.2 L610.0,2648.0 L611.6,2652.8 L613.3,2657.6 L615.1,2662.3 L616.9,2667.0 L618.8,2671.7 L620.7,2676.3 L622.7,2680.8 L624.8,2685.3 L627.0,2689.8 L629.2,2694.2 L631.5,2698.5 L633.9,2702.8 L636.4,2706.9 L639.0,2711.0 L641.6,2715.0 L644.4,2719.0 L647.3,2722.8 L650.2,2726.6 L653.3,2730.2 L656.4,2733.8 L659.7,2737.2 L663.1,2740.6 L666.6,2743.8 L670.2,2746.9 L673.9,2750.0 L677.7,2752.9 L681.5,2755.8 L685.5,2758.5 L689.5,2761.2 L693.6,2763.8 L697.7,2766.3 L701.9,2768.8 L706.2,2771.2 L710.5,2773.5 L714.8,2775.8 L719.2,2778.0 L723.6,2780.2 L728.0,2782.3 L732.4,2784.3 L736.9,2786.4 L741.4,2788.3 L745.8,2790.3 L750.4,2792.1 L754.9,2794.0 L759.4,2795.8 L764.0,2797.6 L768.5,2799.3 L773.1,2801.0 L777.7,2802.6 L782.3,2804.2 L787.0,2805.8 L791.6,2807.3 L796.3,2808.8 L801.0,2810.3 L805.6,2811.7 L810.3,2813.1 L815.1,2814.4 L819.8,2815.7 L824.5,2817.0 L829.3,2818.2 L834.0,2819.5 L838.8,2820.6 L843.6,2821.8 L848.4,2822.9 L853.2,2824.0 L858.1,2825.1 L862.9,2826.1 L867.7,2827.1 L872.6,2828.1 L877.5,2829.1 L882.3,2830.0 L887.2,2830.9 L892.1,2831.8 L897.0,2832.6 L901.9,2833.4 L906.8,2834.3 L911.8,2835.0 L916.7,2835.8 L921.7,2836.5 L926.6,2837.2 L931.6,2837.9 L936.5,2838.6 L941.5,2839.3 L946.5,2839.9 L951.5,2840.5 L956.5,2841.2 L961.5,2841.7 L966.5,2842.3 L971.5,2842.9 L976.5,2843.4 L981.5,2843.9 L986.6,2844.5 L991.6,2845.0 L996.6,2845.5 L1001.7,2845.9 L1006.7,2846.4 L1011.8,2846.9 L1016.8,2847.3 L1021.9,2847.7 L1026.9,2848.2 L1032.0,2848.6 L1037.0,2849.0 L1042.1,2849.4 L1047.2,2849.8 L1052.2,2850.2 L1057.3,2850.6 L1062.4,2851.0 L1067.4,2851.3 L1072.5,2851.7 L1077.6,2852.1 L1082.7,2852.5 L1087.7,2852.8 L1092.8,2853.2 L1097.9,2853.6 L1102.9,2853.9 L1108.0,2854.3 L1113.1,2854.7 L1118.1,2855.0 L1123.2,2855.4 L1128.3,2855.8 L1133.3,2856.2 L1138.4,2856.5 L1143.4,2856.9 L1148.5,2857.3 L1153.5,2857.7 L1158.6,2858.1 L1163.6,2858.5 L1168.7,2858.9 L1173.7,2859.3 L1178.8,2859.8 L1183.8,2860.2 L1188.8,2860.6 L1193.9,2861.0 L1198.9,2861.4 L1203.9,2861.9 L1209.0,2862.3 L1214.0,2862.7 L1219.0,2863.2 L1224.0,2863.6 L1229.0,2864.1 L1234.1,2864.5 L1239.1,2865.0 L1244.1,2865.4 L1249.1,2865.9 L1254.1,2866.3 L1259.1,2866.8 L1264.1,2867.3 L1269.1,2867.7 L1274.1,2868.2 L1279.2,2868.7 L1284.2,2869.2 L1289.1,2869.6 L1294.1,2870.1 L1299.1,2870.6 L1304.1,2871.1 L1309.1,2871.6 L1314.1,2872.1 L1319.1,2872.6 L1324.1,2873.1 L1329.1,2873.6 L1334.1,2874.1 L1339.1,2874.6 L1344.0,2875.1 L1349.0,2875.6 L1354.0,2876.1 L1359.0,2876.6 L1363.9,2877.2 L1368.9,2877.7 L1373.9,2878.2 L1378.9,2878.7 L1383.8,2879.2 L1388.8,2879.8 L1393.8,2880.3 L1398.7,2880.8 L1403.7,2881.4 L1408.7,2881.9 L1413.6,2882.4 L1418.6,2883.0 L1423.6,2883.5 L1428.5,2884.0 L1433.5,2884.6 L1438.4,2885.1 L1443.4,2885.7 L1448.4,2886.2 L1453.3,2886.8 L1458.3,2887.3 L1463.2,2887.9 L1468.2,2888.4 L1473.1,2889.0 L1478.1,2889.5 L1483.0,2890.1 L1488.0,2890.7 L1492.9,2891.2 L1497.9,2891.8 L1502.8,2892.4 L1507.8,2892.9 L1512.7,2893.5 L1517.6,2894.0 L1522.6,2894.6 L1527.5,2895.2 L1532.5,2895.8 L1537.4,2896.3 L1542.3,2896.9 L1547.3,2897.5 L1552.2,2898.0 L1557.2,2898.6 L1562.1,2899.2 L1567.0,2899.8 L1572.0,2900.3 L1576.9,2900.9 L1581.8,2901.5 L1586.8,2902.1 L1591.7,2902.6 L1596.6,2903.2 L1601.6,2903.8 L1606.5,2904.4 L1611.4,2905.0 L1616.4,2905.5 L1621.3,2906.1 L1626.2,2906.7 L1631.2,2907.3 L1636.1,2907.9 L1641.0,2908.5 L1646.0,2909.0 L1650.9,2909.6 L1655.8,2910.2 L1660.8,2910.8 L1665.7,2911.4 L1670.6,2912.0 L1675.5,2912.5 L1680.5,2913.1 L1685.4,2913.7 L1690.3,2914.3 L1695.3,2914.9 L1700.2,2915.4 L1705.1,2916.0 L1710.0,2916.6 L1715.0,2917.2 L1719.9,2917.8 L1724.8,2918.4 L1729.8,2918.9 L1734.7,2919.5 L1739.6,2920.1 L1744.5,2920.7 L1749.5,2921.2 L1754.4,2921.8 L1759.3,2922.4 L1764.3,2923.0 L1769.2,2923.6 L1774.1,2924.1 L1779.0,2924.7 L1784.0,2925.3 L1788.9,2925.8 L1793.8,2926.4 L1798.8,2927.0 L1803.7,2927.6 L1808.6,2928.1 L1813.6,2928.7 L1818.5,2929.3 L1823.4,2929.8 L1828.4,2930.4 L1833.3,2931.0 L1838.2,2931.5 L1843.2,2932.1 L1848.1,2932.6 L1853.0,2933.2 L1858.0,2933.8 L1862.9,2934.3 L1867.9,2934.9 L1872.8,2935.4 L1877.7,2936.0 L1882.7,2936.5 L1887.6,2937.1 L1892.6,2937.6 L1897.5,2938.2 L1902.4,2938.7 L1907.4,2939.2 L1912.3,2939.8 L1917.3,2940.3 L1922.2,2940.9 L1927.2,2941.4 L1932.1,2941.9 L1937.1,2942.5 L1942.0,2943.0 L1947.0,2943.5 L1951.9,2944.0 L1956.9,2944.6 L1961.8,2945.1 L1966.8,2945.6 L1971.7,2946.1 L1976.7,2946.6 L1981.6,2947.2 L1986.6,2947.7 L1991.6,2948.2 L1996.5,2948.7 L2001.5,2949.2 L2006.5,2949.7 L2011.4,2950.2 L2016.4,2950.7 L2021.3,2951.2 L2026.3,2951.7 L2031.3,2952.2 L2036.3,2952.6 L2041.2,2953.1 L2046.2,2953.6 L2051.2,2954.1 L2056.1,2954.6 L2061.1,2955.0 L2066.1,2955.5 L2071.1,2956.0 L2076.1,2956.4 L2081.0,2956.9 L2086.0,2957.4 L2091.0,2957.8 L2096.0,2958.3 L2101.0,2958.7 L2106.0,2959.2 L2111.0,2959.6 L2116.0,2960.0 L2121.0,2960.5 L2126.0,2960.9 L2131.0,2961.4 L2136.0,2961.8 L2141.0,2962.2 L2146.0,2962.6 L2151.0,2963.0 L2156.0,2963.5 L2161.0,2963.9 L2166.0,2964.3 L2171.0,2964.7 L2176.0,2965.1 L2181.0,2965.5 L2186.0,2965.9 L2191.1,2966.3 L2196.1,2966.6 L2201.1,2967.0 L2206.1,2967.4 L2211.2,2967.8 L2216.2,2968.2 L2221.2,2968.5 L2226.2,2968.9 L2231.3,2969.2 L2236.3,2969.6 L2241.4,2969.9 L2246.4,2970.3 L2251.4,2970.6 L2256.5,2971.0 L2261.5,2971.3 L2266.6,2971.6 L2271.6,2972.0 L2276.7,2972.3 L2281.7,2972.6 L2286.8,2972.9 L2291.9,2973.2 L2296.9,2973.5 L2302.0,2973.8 L2307.1,2974.1 L2312.1,2974.4 L2317.2,2974.7 L2322.3,2975.0 L2327.3,2975.3" fill="none" stroke="#8c564b" stroke-width="9.4" stroke-linejoin="round" stroke-linecap="butt" />
</g>
<rect x="320" y="21" width="2103" height="1372" fill="none" stroke="#333333" stroke-width="6.1"/>
<line x1="413.7" y1="1393" x2="413.7" y2="1415.0" stroke="#333333" stroke-width="6.1"/>
<line x1="413.7" y1="1415.0" x2="413.7" y2="1421.0" stroke="#999" stroke-width="6.1"/>
<text transform="translate(413.7,1490) scale(1,1.06)" class="t" text-anchor="middle">0</text>
<line x1="798.0" y1="1393" x2="798.0" y2="1415.0" stroke="#333333" stroke-width="6.1"/>
<line x1="798.0" y1="1415.0" x2="798.0" y2="1421.0" stroke="#999" stroke-width="6.1"/>
<text transform="translate(798.0,1490) scale(1,1.06)" class="t" text-anchor="middle">100</text>
<line x1="1182.3" y1="1393" x2="1182.3" y2="1415.0" stroke="#333333" stroke-width="6.1"/>
<line x1="1182.3" y1="1415.0" x2="1182.3" y2="1421.0" stroke="#999" stroke-width="6.1"/>
<text transform="translate(1182.3,1490) scale(1,1.06)" class="t" text-anchor="middle">200</text>
<line x1="1566.6" y1="1393" x2="1566.6" y2="1415.0" stroke="#333333" stroke-width="6.1"/>
<line x1="1566.6" y1="1415.0" x2="1566.6" y2="1421.0" stroke="#999" stroke-width="6.1"/>
<text transform="translate(1566.6,1490) scale(1,1.06)" class="t" text-anchor="middle">300</text>
<line x1="1950.9" y1="1393" x2="1950.9" y2="1415.0" stroke="#333333" stroke-width="6.1"/>
<line x1="1950.9" y1="1415.0" x2="1950.9" y2="1421.0" stroke="#999" stroke-width="6.1"/>
<text transform="translate(1950.9,1490) scale(1,1.06)" class="t" text-anchor="middle">400</text>
<line x1="2335.2" y1="1393" x2="2335.2" y2="1415.0" stroke="#333333" stroke-width="6.1"/>
<line x1="2335.2" y1="1415.0" x2="2335.2" y2="1421.0" stroke="#999" stroke-width="6.1"/>
<text transform="translate(2335.2,1490) scale(1,1.06)" class="t" text-anchor="middle">500</text>
<rect x="304" y="1384.0" width="6.3" height="6.1" fill="#aaaaaa"/>
<rect x="310.3" y="1384.0" width="6.7" height="6.1" fill="#666666"/>
<rect x="304" y="1321.0" width="6.3" height="6.1" fill="#aaaaaa"/>
<rect x="310.3" y="1321.0" width="6.7" height="6.1" fill="#666666"/>
<rect x="304" y="1270.9" width="6.3" height="6.1" fill="#aaaaaa"/>
<rect x="310.3" y="1270.9" width="6.7" height="6.1" fill="#666666"/>
<rect x="304" y="1226.8" width="6.3" height="6.1" fill="#aaaaaa"/>
<rect x="310.3" y="1226.8" width="6.7" height="6.1" fill="#666666"/>
<rect x="304" y="1189.0" width="6.3" height="6.1" fill="#aaaaaa"/>
<rect x="310.3" y="1189.0" width="6.7" height="6.1" fill="#666666"/>
<rect x="304" y="1157.2" width="6.3" height="6.1" fill="#aaaaaa"/>
<rect x="310.3" y="1157.2" width="6.7" height="6.1" fill="#666666"/>
<rect x="304" y="930.5" width="6.3" height="6.1" fill="#aaaaaa"/>
<rect x="310.3" y="930.5" width="6.7" height="6.1" fill="#666666"/>
<rect x="304" y="816.2" width="6.3" height="6.1" fill="#aaaaaa"/>
<rect x="310.3" y="816.2" width="6.7" height="6.1" fill="#666666"/>
<rect x="304" y="735.1" width="6.3" height="6.1" fill="#aaaaaa"/>
<rect x="310.3" y="735.1" width="6.7" height="6.1" fill="#666666"/>
<rect x="304" y="672.2" width="6.3" height="6.1" fill="#aaaaaa"/>
<rect x="310.3" y="672.2" width="6.7" height="6.1" fill="#666666"/>
<rect x="304" y="620.8" width="6.3" height="6.1" fill="#aaaaaa"/>
<rect x="310.3" y="620.8" width="6.7" height="6.1" fill="#666666"/>
<rect x="304" y="577.4" width="6.3" height="6.1" fill="#aaaaaa"/>
<rect x="310.3" y="577.4" width="6.7" height="6.1" fill="#666666"/>
<rect x="304" y="539.7" width="6.3" height="6.1" fill="#aaaaaa"/>
<rect x="310.3" y="539.7" width="6.7" height="6.1" fill="#666666"/>
<rect x="304" y="502.9" width="6.3" height="6.1" fill="#aaaaaa"/>
<rect x="310.3" y="502.9" width="6.7" height="6.1" fill="#666666"/>
<rect x="304" y="281.2" width="6.3" height="6.1" fill="#aaaaaa"/>
<rect x="310.3" y="281.2" width="6.7" height="6.1" fill="#666666"/>
<rect x="304" y="162.4" width="6.3" height="6.1" fill="#aaaaaa"/>
<rect x="310.3" y="162.4" width="6.7" height="6.1" fill="#666666"/>
<rect x="304" y="81.0" width="6.3" height="6.1" fill="#aaaaaa"/>
<rect x="310.3" y="81.0" width="6.7" height="6.1" fill="#666666"/>
<rect x="304" y="18.4" width="6.3" height="6.1" fill="#aaaaaa"/>
<rect x="310.3" y="18.4" width="6.7" height="6.1" fill="#666666"/>
<line x1="304" y1="479.9" x2="320" y2="479.9" stroke="#333333" stroke-width="6.1"/>
<rect x="297.7" y="476.8" width="6.3" height="6.1" fill="#999999"/>
<line x1="304" y1="1128.9" x2="320" y2="1128.9" stroke="#333333" stroke-width="6.1"/>
<rect x="297.7" y="1125.9" width="6.3" height="6.1" fill="#999999"/>
<text transform="translate(159,507) scale(1,1.06)" class="t">10</text>
<text transform="translate(232,482.5) scale(1,1.06)" class="t" style="font-size:40px">0</text>
<text transform="translate(121,1161) scale(1,1.06)" class="t">10</text>
<text transform="translate(196,1137) scale(1,1.06)" class="t" style="font-size:40px">&#8722;1</text>
<text transform="translate(77,722) rotate(-90) scale(1,1.06)" class="t" text-anchor="middle">loss</text>
<text transform="translate(1365,1579) scale(1,1.06)" class="t" text-anchor="middle">epoch</text>
<rect x="1346.2" y="52.25" width="1045.4999999999998" height="623.35" rx="10" ry="10" fill="#ffffff" fill-opacity="0.8" stroke="#d5d5d5" stroke-width="6"/>
<rect x="1362" y="99.2" width="138.5" height="12.6" fill="#1f77b4" fill-opacity="0.78"/>
<text transform="translate(1546,137) scale(1,1.06)" class="t">QGD_LR_0.1</text>
<rect x="1362" y="200.1" width="138.5" height="12.6" fill="#ff7f0e" fill-opacity="0.78"/>
<text transform="translate(1546,237.5) scale(1,1.06)" class="t">TFGD_LR_0.1_ALPHA_0.7</text>
<rect x="1362" y="299.7" width="138.5" height="12.6" fill="#2ca02c" fill-opacity="0.78"/>
<text transform="translate(1546,338.3) scale(1,1.06)" class="t">TFGD_LR_0.1_ALPHA_0.8</text>
<rect x="1362" y="398.7" width="138.5" height="12.6" fill="#d62728" fill-opacity="0.78"/>
<text transform="translate(1546,439.1) scale(1,1.06)" class="t">TFGD_LR_0.1_ALPHA_0.9</text>
<rect x="1362" y="496.1" width="138.5" height="12.6" fill="#9467bd" fill-opacity="0.78"/>
<text transform="translate(1546,539.9) scale(1,1.06)" class="t">TFGD_LR_0.1_ALPHA_0.95</text>
<rect x="1362" y="596.9" width="138.5" height="12.6" fill="#8c564b" fill-opacity="0.78"/>
<text transform="translate(1546,640.7) scale(1,1.06)" class="t">TFGD_LR_0.1_ALPHA_0.99</text>
<rect x="286" y="1679" width="2136" height="1390.5" fill="none" stroke="#333333" stroke-width="6.1"/>
<line x1="381.7" y1="3069.5" x2="381.7" y2="3091.5" stroke="#333333" stroke-width="6.1"/>
<line x1="381.7" y1="3091.5" x2="381.7" y2="3097.5" stroke="#999" stroke-width="6.1"/>
<text transform="translate(381.7,3167) scale(1,1.06)" class="t" text-anchor="middle">0</text>
<line x1="770.7" y1="3069.5" x2="770.7" y2="3091.5" stroke="#333333" stroke-width="6.1"/>
<line x1="770.7" y1="3091.5" x2="770.7" y2="3097.5" stroke="#999" stroke-width="6.1"/>
<text transform="translate(770.7,3167) scale(1,1.06)" class="t" text-anchor="middle">100</text>
<line x1="1159.7" y1="3069.5" x2="1159.7" y2="3091.5" stroke="#333333" stroke-width="6.1"/>
<line x1="1159.7" y1="3091.5" x2="1159.7" y2="3097.5" stroke="#999" stroke-width="6.1"/>
<text transform="translate(1159.7,3167) scale(1,1.06)" class="t" text-anchor="middle">200</text>
<line x1="1548.7" y1="3069.5" x2="1548.7" y2="3091.5" stroke="#333333" stroke-width="6.1"/>
<line x1="1548.7" y1="3091.5" x2="1548.7" y2="3097.5" stroke="#999" stroke-width="6.1"/>
<text transform="translate(1548.7,3167) scale(1,1.06)" class="t" text-anchor="middle">300</text>
<line x1="1937.7" y1="3069.5" x2="1937.7" y2="3091.5" stroke="#333333" stroke-width="6.1"/>
<line x1="1937.7" y1="3091.5" x2="1937.7" y2="3097.5" stroke="#999" stroke-width="6.1"/>
<text transform="translate(1937.7,3167) scale(1,1.06)" class="t" text-anchor="middle">400</text>
<line x1="2326.7" y1="3069.5" x2="2326.7" y2="3091.5" stroke="#333333" stroke-width="6.1"/>
<line x1="2326.7" y1="3091.5" x2="2326.7" y2="3097.5" stroke="#999" stroke-width="6.1"/>
<text transform="translate(2326.7,3167) scale(1,1.06)" class="t" text-anchor="middle">500</text>
<rect x="270" y="3000.9" width="6.3" height="6.1" fill="#aaaaaa"/>
<rect x="276.3" y="3000.9" width="6.7" height="6.1" fill="#666666"/>
<rect x="270" y="2829.3" width="6.3" height="6.1" fill="#aaaaaa"/>
<rect x="276.3" y="2829.3" width="6.7" height="6.1" fill="#666666"/>
<rect x="270" y="2707.4" width="6.3" height="6.1" fill="#aaaaaa"/>
<rect x="276.3" y="2707.4" width="6.7" height="6.1" fill="#666666"/>
<rect x="270" y="2613.0" width="6.3" height="6.1" fill="#aaaaaa"/>
<rect x="276.3" y="2613.0" width="6.7" height="6.1" fill="#666666"/>
<rect x="270" y="2535.8" width="6.3" height="6.1" fill="#aaaaaa"/>
<rect x="276.3" y="2535.8" width="6.7" height="6.1" fill="#666666"/>
<rect x="270" y="2470.5" width="6.3" height="6.1" fill="#aaaaaa"/>
<rect x="276.3" y="2470.5" width="6.7" height="6.1" fill="#666666"/>
<rect x="270" y="2413.9" width="6.3" height="6.1" fill="#aaaaaa"/>
<rect x="276.3" y="2413.9" width="6.7" height="6.1" fill="#666666"/>
<rect x="270" y="2364.1" width="6.3" height="6.1" fill="#aaaaaa"/>
<rect x="276.3" y="2364.1" width="6.7" height="6.1" fill="#666666"/>
<rect x="270" y="2025.9" width="6.3" height="6.1" fill="#aaaaaa"/>
<rect x="276.3" y="2025.9" width="6.7" height="6.1" fill="#666666"/>
<rect x="270" y="1854.3" width="6.3" height="6.1" fill="#aaaaaa"/>
<rect x="276.3" y="1854.3" width="6.7" height="6.1" fill="#666666"/>
<rect x="270" y="1732.4" width="6.3" height="6.1" fill="#aaaaaa"/>
<rect x="276.3" y="1732.4" width="6.7" height="6.1" fill="#666666"/>
<line x1="270" y1="2322.5" x2="286" y2="2322.5" stroke="#333333" stroke-width="6.1"/>
<rect x="263.7" y="2319.4" width="6.3" height="6.1" fill="#999999"/>
<text transform="translate(125,2357) scale(1,1.06)" class="t">10</text>
<text transform="translate(200.5,2333) scale(1,1.06)" class="t" style="font-size:40px">0</text>
<text transform="translate(78,2390) rotate(-90) scale(1,1.06)" class="t" text-anchor="middle">loss</text>
<text transform="translate(1351,3257) scale(1,1.06)" class="t" text-anchor="middle">epoch</text>
<rect x="1287" y="1711" width="1103.6" height="631.8000000000002" rx="10" ry="10" fill="#ffffff" fill-opacity="0.8" stroke="#d5d5d5" stroke-width="6"/>
<rect x="1304" y="1759.1" width="139.4000000000001" height="12.6" fill="#1f77b4" fill-opacity="0.78"/>
<text transform="translate(1490,1797.2) scale(1,1.06)" class="t">QGD_LR_0.01</text>
<rect x="1304" y="1861.2" width="139.4000000000001" height="12.6" fill="#ff7f0e" fill-opacity="0.78"/>
<text transform="translate(1490,1898.9) scale(1,1.06)" class="t">TFGD_LR_0.01_ALPHA_0.7</text>
<rect x="1304" y="1962.5" width="139.4000000000001" height="12.6" fill="#2ca02c" fill-opacity="0.78"/>
<text transform="translate(1490,2001) scale(1,1.06)" class="t">TFGD_LR_0.01_ALPHA_0.8</text>
<rect x="1304" y="2064.5" width="139.4000000000001" height="12.6" fill="#d62728" fill-opacity="0.78"/>
<text transform="translate(1490,2103) scale(1,1.06)" class="t">TFGD_LR_0.01_ALPHA_0.9</text>
<rect x="1304" y="2161.1" width="139.4000000000001" height="12.6" fill="#9467bd" fill-opacity="0.78"/>
<text transform="translate(1490,2205.4) scale(1,1.06)" class="t">TFGD_LR_0.01_ALPHA_0.95</text>
<rect x="1304" y="2263.2" width="139.4000000000001" height="12.6" fill="#8c564b" fill-opacity="0.78"/>
<text transform="translate(1490,2307.1) scale(1,1.06)" class="t">TFGD_LR_0.01_ALPHA_0.99</text>
</svg>
</body></html>
